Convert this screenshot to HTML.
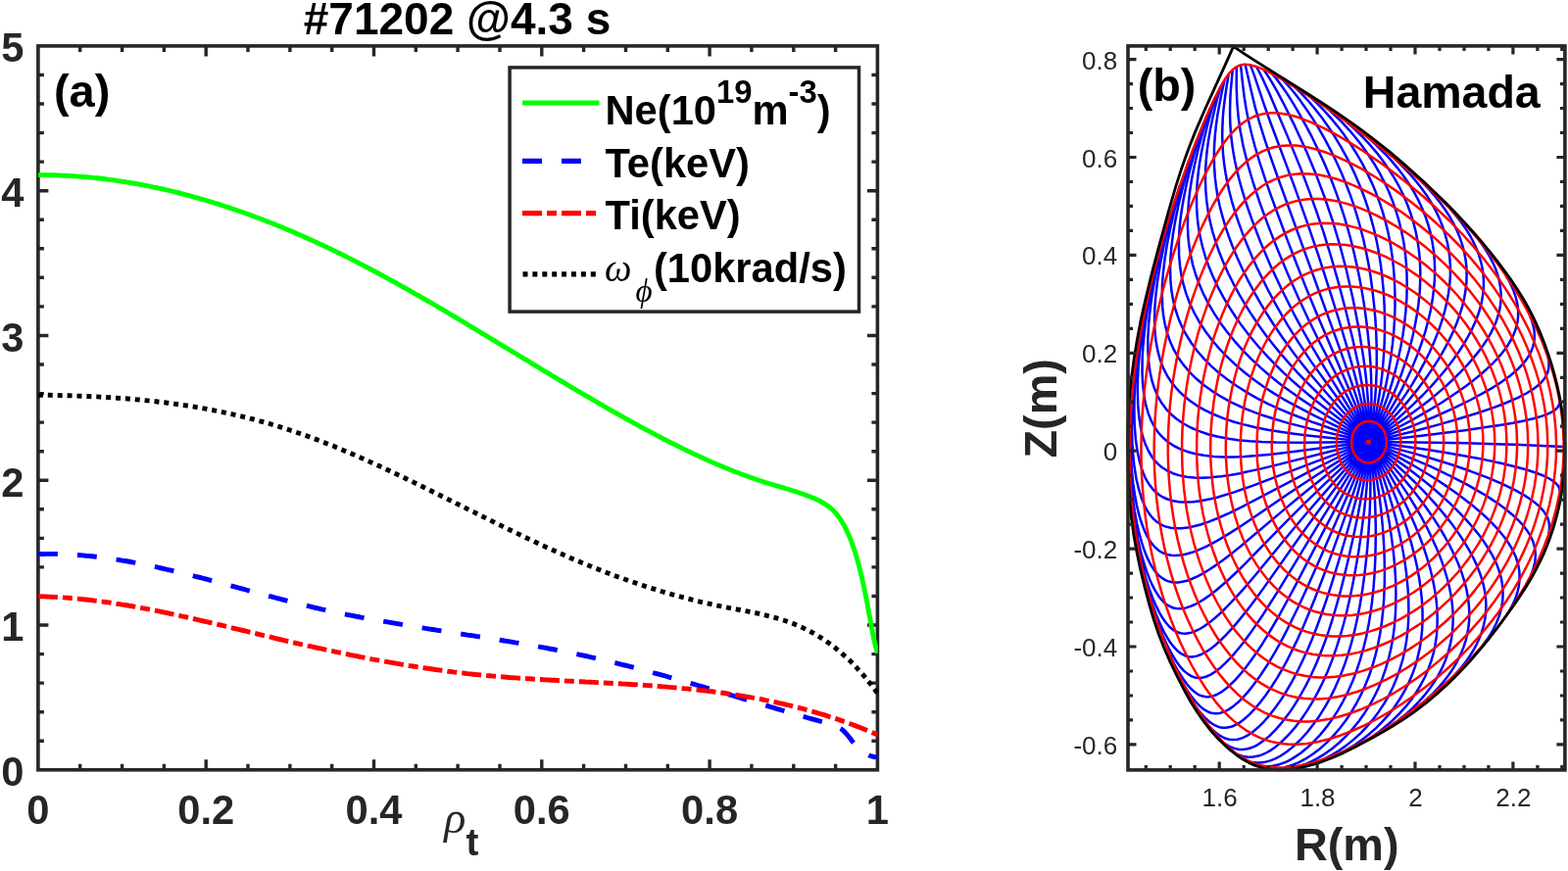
<!DOCTYPE html>
<html lang="en">
<head>
<meta charset="utf-8">
<title>#71202 @4.3 s — profiles and Hamada grid</title>
<style>
html,body{margin:0;padding:0;background:#fff;}
body{width:1600px;height:889px;overflow:hidden;font-family:"Liberation Sans",Arial,Helvetica,sans-serif;}
svg{display:block;position:absolute;left:0;top:0;}
text{white-space:pre;}
</style>
</head>
<body>
<svg width="1600" height="889" viewBox="0 0 1600 889">
<rect x="0" y="0" width="1600" height="889" fill="#ffffff"/>
<g id="axes-a">
<rect x="38.9" y="46.9" width="856.5" height="738.9" fill="none" stroke="#262626" stroke-width="3.6"/>
<path d="M81.7,785.8 v-6.0 M81.7,46.9 v6.0 M124.6,785.8 v-6.0 M124.6,46.9 v6.0 M167.4,785.8 v-6.0 M167.4,46.9 v6.0 M210.2,785.8 v-10.5 M210.2,46.9 v10.5 M253.0,785.8 v-6.0 M253.0,46.9 v6.0 M295.9,785.8 v-6.0 M295.9,46.9 v6.0 M338.7,785.8 v-6.0 M338.7,46.9 v6.0 M381.5,785.8 v-10.5 M381.5,46.9 v10.5 M424.3,785.8 v-6.0 M424.3,46.9 v6.0 M467.1,785.8 v-6.0 M467.1,46.9 v6.0 M510.0,785.8 v-6.0 M510.0,46.9 v6.0 M552.8,785.8 v-10.5 M552.8,46.9 v10.5 M595.6,785.8 v-6.0 M595.6,46.9 v6.0 M638.5,785.8 v-6.0 M638.5,46.9 v6.0 M681.3,785.8 v-6.0 M681.3,46.9 v6.0 M724.1,785.8 v-10.5 M724.1,46.9 v10.5 M766.9,785.8 v-6.0 M766.9,46.9 v6.0 M809.8,785.8 v-6.0 M809.8,46.9 v6.0 M852.6,785.8 v-6.0 M852.6,46.9 v6.0 M38.9,756.2 h6.0 M895.4,756.2 h-6.0 M38.9,726.7 h6.0 M895.4,726.7 h-6.0 M38.9,697.1 h6.0 M895.4,697.1 h-6.0 M38.9,667.6 h6.0 M895.4,667.6 h-6.0 M38.9,638.0 h10.5 M895.4,638.0 h-10.5 M38.9,608.5 h6.0 M895.4,608.5 h-6.0 M38.9,578.9 h6.0 M895.4,578.9 h-6.0 M38.9,549.4 h6.0 M895.4,549.4 h-6.0 M38.9,519.8 h6.0 M895.4,519.8 h-6.0 M38.9,490.2 h10.5 M895.4,490.2 h-10.5 M38.9,460.7 h6.0 M895.4,460.7 h-6.0 M38.9,431.1 h6.0 M895.4,431.1 h-6.0 M38.9,401.6 h6.0 M895.4,401.6 h-6.0 M38.9,372.0 h6.0 M895.4,372.0 h-6.0 M38.9,342.5 h10.5 M895.4,342.5 h-10.5 M38.9,312.9 h6.0 M895.4,312.9 h-6.0 M38.9,283.3 h6.0 M895.4,283.3 h-6.0 M38.9,253.8 h6.0 M895.4,253.8 h-6.0 M38.9,224.2 h6.0 M895.4,224.2 h-6.0 M38.9,194.7 h10.5 M895.4,194.7 h-10.5 M38.9,165.1 h6.0 M895.4,165.1 h-6.0 M38.9,135.6 h6.0 M895.4,135.6 h-6.0 M38.9,106.0 h6.0 M895.4,106.0 h-6.0 M38.9,76.5 h6.0 M895.4,76.5 h-6.0" stroke="#262626" stroke-width="3.4" fill="none"/>
<clipPath id="clipA"><rect x="38.6" y="46.9" width="857.3" height="740.9"/></clipPath>
<g fill="none" stroke-width="4.9" stroke-linejoin="round" clip-path="url(#clipA)">
<path d="M38.9,178.6 L41.0,178.6 L43.2,178.6 L45.3,178.6 L47.5,178.6 L49.6,178.7 L51.8,178.7 L53.9,178.8 L56.1,178.8 L58.2,178.9 L60.4,179.0 L62.5,179.1 L64.7,179.2 L66.8,179.3 L69.0,179.4 L71.1,179.5 L73.2,179.6 L75.4,179.8 L77.5,179.9 L79.7,180.1 L81.8,180.2 L84.0,180.4 L86.1,180.6 L88.3,180.7 L90.4,180.9 L92.6,181.1 L94.7,181.4 L96.9,181.6 L99.0,181.8 L101.2,182.0 L103.3,182.3 L105.4,182.5 L107.6,182.8 L109.7,183.1 L111.9,183.4 L114.0,183.6 L116.2,183.9 L118.3,184.2 L120.5,184.6 L122.6,184.9 L124.8,185.2 L126.9,185.5 L129.1,185.9 L131.2,186.2 L133.4,186.6 L135.5,187.0 L137.6,187.3 L139.8,187.7 L141.9,188.1 L144.1,188.5 L146.2,188.9 L148.4,189.3 L150.5,189.7 L152.7,190.2 L154.8,190.6 L157.0,191.1 L159.1,191.5 L161.3,192.0 L163.4,192.4 L165.6,192.9 L167.7,193.4 L169.8,193.9 L172.0,194.4 L174.1,194.9 L176.3,195.4 L178.4,195.9 L180.6,196.5 L182.7,197.0 L184.9,197.5 L187.0,198.1 L189.2,198.7 L191.3,199.2 L193.5,199.8 L195.6,200.4 L197.7,201.0 L199.9,201.6 L202.0,202.2 L204.2,202.8 L206.3,203.4 L208.5,204.0 L210.6,204.7 L212.8,205.3 L214.9,205.9 L217.1,206.6 L219.2,207.3 L221.4,207.9 L223.5,208.6 L225.7,209.3 L227.8,210.0 L229.9,210.7 L232.1,211.4 L234.2,212.1 L236.4,212.8 L238.5,213.5 L240.7,214.3 L242.8,215.0 L245.0,215.8 L247.1,216.5 L249.3,217.3 L251.4,218.0 L253.6,218.8 L255.7,219.6 L257.9,220.4 L260.0,221.2 L262.1,222.0 L264.3,222.8 L266.4,223.6 L268.6,224.4 L270.7,225.3 L272.9,226.1 L275.0,226.9 L277.2,227.8 L279.3,228.6 L281.5,229.5 L283.6,230.4 L285.8,231.2 L287.9,232.1 L290.1,233.0 L292.2,233.9 L294.3,234.8 L296.5,235.7 L298.6,236.6 L300.8,237.5 L302.9,238.5 L305.1,239.4 L307.2,240.3 L309.4,241.3 L311.5,242.2 L313.7,243.2 L315.8,244.2 L318.0,245.1 L320.1,246.1 L322.3,247.1 L324.4,248.1 L326.5,249.1 L328.7,250.1 L330.8,251.1 L333.0,252.1 L335.1,253.1 L337.3,254.1 L339.4,255.2 L341.6,256.2 L343.7,257.2 L345.9,258.3 L348.0,259.3 L350.2,260.4 L352.3,261.5 L354.5,262.6 L356.6,263.6 L358.7,264.7 L360.9,265.8 L363.0,266.9 L365.2,268.0 L367.3,269.1 L369.5,270.2 L371.6,271.3 L373.8,272.5 L375.9,273.6 L378.1,274.7 L380.2,275.9 L382.4,277.0 L384.5,278.2 L386.7,279.3 L388.8,280.5 L390.9,281.6 L393.1,282.8 L395.2,284.0 L397.4,285.1 L399.5,286.3 L401.7,287.5 L403.8,288.7 L406.0,289.9 L408.1,291.1 L410.3,292.3 L412.4,293.5 L414.6,294.7 L416.7,295.9 L418.9,297.1 L421.0,298.3 L423.1,299.6 L425.3,300.8 L427.4,302.0 L429.6,303.2 L431.7,304.5 L433.9,305.7 L436.0,307.0 L438.2,308.2 L440.3,309.4 L442.5,310.7 L444.6,311.9 L446.8,313.2 L448.9,314.5 L451.1,315.7 L453.2,317.0 L455.3,318.2 L457.5,319.5 L459.6,320.8 L461.8,322.1 L463.9,323.3 L466.1,324.6 L468.2,325.9 L470.4,327.2 L472.5,328.5 L474.7,329.7 L476.8,331.0 L479.0,332.3 L481.1,333.6 L483.2,334.9 L485.4,336.2 L487.5,337.5 L489.7,338.8 L491.8,340.1 L494.0,341.4 L496.1,342.7 L498.3,344.0 L500.4,345.3 L502.6,346.6 L504.7,347.9 L506.9,349.2 L509.0,350.5 L511.2,351.8 L513.3,353.1 L515.4,354.4 L517.6,355.7 L519.7,357.0 L521.9,358.3 L524.0,359.6 L526.2,360.9 L528.3,362.2 L530.5,363.5 L532.6,364.8 L534.8,366.1 L536.9,367.4 L539.1,368.7 L541.2,370.0 L543.4,371.3 L545.5,372.6 L547.6,373.9 L549.8,375.2 L551.9,376.5 L554.1,377.8 L556.2,379.1 L558.4,380.4 L560.5,381.7 L562.7,383.0 L564.8,384.3 L567.0,385.5 L569.1,386.8 L571.3,388.1 L573.4,389.4 L575.6,390.7 L577.7,392.0 L579.8,393.3 L582.0,394.5 L584.1,395.8 L586.3,397.1 L588.4,398.3 L590.6,399.6 L592.7,400.9 L594.9,402.1 L597.0,403.4 L599.2,404.7 L601.3,405.9 L603.5,407.2 L605.6,408.4 L607.8,409.7 L609.9,410.9 L612.0,412.2 L614.2,413.4 L616.3,414.6 L618.5,415.9 L620.6,417.1 L622.8,418.3 L624.9,419.6 L627.1,420.8 L629.2,422.0 L631.4,423.2 L633.5,424.4 L635.7,425.6 L637.8,426.8 L640.0,428.0 L642.1,429.2 L644.2,430.4 L646.4,431.6 L648.5,432.8 L650.7,433.9 L652.8,435.1 L655.0,436.3 L657.1,437.4 L659.3,438.6 L661.4,439.7 L663.6,440.9 L665.7,442.0 L667.9,443.2 L670.0,444.3 L672.2,445.4 L674.3,446.5 L676.4,447.7 L678.6,448.8 L680.7,449.9 L682.9,451.0 L685.0,452.1 L687.2,453.1 L689.3,454.2 L691.5,455.3 L693.6,456.3 L695.8,457.4 L697.9,458.4 L700.1,459.5 L702.2,460.5 L704.4,461.5 L706.5,462.6 L708.6,463.6 L710.8,464.6 L712.9,465.6 L715.1,466.6 L717.2,467.5 L719.4,468.5 L721.5,469.5 L723.7,470.4 L725.8,471.4 L728.0,472.3 L730.1,473.2 L732.3,474.2 L734.4,475.1 L736.6,476.0 L738.7,476.9 L740.8,477.7 L743.0,478.6 L745.1,479.5 L747.3,480.3 L749.4,481.2 L751.6,482.0 L753.7,482.8 L755.9,483.7 L758.0,484.5 L760.2,485.2 L762.3,486.0 L764.5,486.8 L766.6,487.6 L768.7,488.3 L770.9,489.0 L773.0,489.8 L775.2,490.5 L777.3,491.2 L779.5,491.9 L781.6,492.6 L783.8,493.2 L785.9,493.9 L788.1,494.5 L790.2,495.2 L792.4,495.8 L794.5,496.4 L796.7,497.1 L798.8,497.7 L800.9,498.3 L803.1,499.0 L805.2,499.6 L807.4,500.3 L809.5,501.0 L811.7,501.6 L813.8,502.3 L816.0,503.1 L818.1,503.8 L820.3,504.6 L822.4,505.4 L824.6,506.2 L826.7,507.0 L828.9,507.9 L831.0,508.8 L833.1,509.8 L835.3,510.8 L837.4,511.8 L839.6,513.0 L841.7,514.3 L843.9,515.7 L846.0,517.3 L848.2,519.1 L850.3,521.1 L852.5,523.4 L854.6,526.0 L856.8,528.9 L858.9,532.2 L861.1,535.9 L863.2,540.0 L865.3,544.5 L867.5,549.5 L869.6,555.1 L871.8,561.4 L873.9,568.3 L876.1,575.9 L878.2,584.4 L880.4,593.7 L882.5,603.8 L884.7,614.6 L886.8,626.2 L889.0,638.0 L891.1,649.2 L893.3,659.0 L895.4,666.6" stroke="#00ff00"/>
<path d="M38.9,565.6 L41.8,565.5 L44.6,565.5 L47.5,565.4 L50.4,565.4 L53.2,565.4 L56.1,565.4 L59.0,565.5 L61.8,565.6 L64.7,565.7 L67.5,565.8 L70.4,565.9 L73.3,566.1 L76.1,566.3 L79.0,566.5 L81.9,566.7 L84.7,566.9 L87.6,567.2 L90.5,567.4 L93.3,567.7 L96.2,568.0 L99.1,568.4 L101.9,568.7 L104.8,569.1 L107.6,569.5 L110.5,569.9 L113.4,570.3 L116.2,570.7 L119.1,571.1 L122.0,571.6 L124.8,572.1 L127.7,572.5 L130.6,573.0 L133.4,573.5 L136.3,574.1 L139.2,574.6 L142.0,575.2 L144.9,575.7 L147.8,576.3 L150.6,576.9 L153.5,577.5 L156.3,578.1 L159.2,578.7 L162.1,579.3 L164.9,580.0 L167.8,580.6 L170.7,581.3 L173.5,581.9 L176.4,582.6 L179.3,583.3 L182.1,584.0 L185.0,584.7 L187.9,585.4 L190.7,586.1 L193.6,586.8 L196.5,587.5 L199.3,588.3 L202.2,589.0 L205.0,589.7 L207.9,590.5 L210.8,591.2 L213.6,592.0 L216.5,592.7 L219.4,593.5 L222.2,594.3 L225.1,595.0 L228.0,595.8 L230.8,596.6 L233.7,597.3 L236.6,598.1 L239.4,598.9 L242.3,599.7 L245.1,600.5 L248.0,601.2 L250.9,602.0 L253.7,602.8 L256.6,603.6 L259.5,604.3 L262.3,605.1 L265.2,605.9 L268.1,606.7 L270.9,607.4 L273.8,608.2 L276.7,608.9 L279.5,609.7 L282.4,610.5 L285.3,611.2 L288.1,612.0 L291.0,612.7 L293.8,613.4 L296.7,614.2 L299.6,614.9 L302.4,615.6 L305.3,616.3 L308.2,617.0 L311.0,617.7 L313.9,618.4 L316.8,619.1 L319.6,619.8 L322.5,620.5 L325.4,621.1 L328.2,621.8 L331.1,622.4 L333.9,623.0 L336.8,623.7 L339.7,624.3 L342.5,624.9 L345.4,625.5 L348.3,626.1 L351.1,626.7 L354.0,627.3 L356.9,627.8 L359.7,628.4 L362.6,629.0 L365.5,629.5 L368.3,630.1 L371.2,630.6 L374.1,631.1 L376.9,631.7 L379.8,632.2 L382.6,632.7 L385.5,633.2 L388.4,633.7 L391.2,634.2 L394.1,634.7 L397.0,635.2 L399.8,635.7 L402.7,636.2 L405.6,636.7 L408.4,637.2 L411.3,637.7 L414.2,638.1 L417.0,638.6 L419.9,639.1 L422.7,639.5 L425.6,640.0 L428.5,640.5 L431.3,640.9 L434.2,641.4 L437.1,641.8 L439.9,642.3 L442.8,642.7 L445.7,643.2 L448.5,643.6 L451.4,644.1 L454.3,644.5 L457.1,644.9 L460.0,645.4 L462.9,645.8 L465.7,646.3 L468.6,646.7 L471.4,647.2 L474.3,647.6 L477.2,648.1 L480.0,648.5 L482.9,648.9 L485.8,649.4 L488.6,649.8 L491.5,650.3 L494.4,650.7 L497.2,651.2 L500.1,651.6 L503.0,652.1 L505.8,652.6 L508.7,653.0 L511.6,653.5 L514.4,654.0 L517.3,654.4 L520.1,654.9 L523.0,655.4 L525.9,655.9 L528.7,656.3 L531.6,656.8 L534.5,657.3 L537.3,657.8 L540.2,658.3 L543.1,658.8 L545.9,659.3 L548.8,659.8 L551.7,660.4 L554.5,660.9 L557.4,661.4 L560.2,662.0 L563.1,662.5 L566.0,663.0 L568.8,663.6 L571.7,664.2 L574.6,664.7 L577.4,665.3 L580.3,665.9 L583.2,666.5 L586.0,667.1 L588.9,667.7 L591.8,668.3 L594.6,668.9 L597.5,669.5 L600.4,670.1 L603.2,670.8 L606.1,671.4 L608.9,672.1 L611.8,672.7 L614.7,673.4 L617.5,674.1 L620.4,674.8 L623.3,675.5 L626.1,676.2 L629.0,676.9 L631.9,677.6 L634.7,678.3 L637.6,679.0 L640.5,679.7 L643.3,680.5 L646.2,681.2 L649.0,682.0 L651.9,682.7 L654.8,683.5 L657.6,684.2 L660.5,685.0 L663.4,685.8 L666.2,686.6 L669.1,687.3 L672.0,688.1 L674.8,688.9 L677.7,689.7 L680.6,690.5 L683.4,691.3 L686.3,692.1 L689.2,692.9 L692.0,693.7 L694.9,694.6 L697.7,695.4 L700.6,696.2 L703.5,697.0 L706.3,697.8 L709.2,698.7 L712.1,699.5 L714.9,700.3 L717.8,701.2 L720.7,702.0 L723.5,702.9 L726.4,703.7 L729.3,704.6 L732.1,705.4 L735.0,706.3 L737.8,707.1 L740.7,708.0 L743.6,708.8 L746.4,709.7 L749.3,710.5 L752.2,711.4 L755.0,712.2 L757.9,713.1 L760.8,713.9 L763.6,714.8 L766.5,715.6 L769.4,716.5 L772.2,717.3 L775.1,718.2 L778.0,719.0 L780.8,719.9 L783.7,720.7 L786.5,721.6 L789.4,722.4 L792.3,723.3 L795.1,724.1 L798.0,725.0 L800.9,725.8 L803.7,726.7 L806.6,727.5 L809.5,728.3 L812.3,729.2 L815.2,730.0 L818.1,730.8 L820.9,731.6 L823.8,732.5 L826.7,733.3 L829.5,734.1 L832.4,734.9 L835.2,735.7 L838.1,736.5 L841.0,737.3 L843.8,738.1 L846.7,738.9 L849.6,739.8 L852.4,740.8 L855.3,742.2 L858.2,743.9 L861.0,746.2 L863.9,749.2 L866.8,752.7 L869.6,756.5 L872.5,759.9 L875.3,762.9 L878.2,765.5 L881.1,767.7 L883.9,769.5 L886.8,771.0 L889.7,772.0 L892.5,772.6 L895.4,772.9" stroke="#0000ff" stroke-dasharray="20 20"/>
<path d="M38.9,608.8 L41.8,608.9 L44.6,608.9 L47.5,609.0 L50.4,609.1 L53.2,609.3 L56.1,609.4 L59.0,609.6 L61.8,609.7 L64.7,609.9 L67.5,610.1 L70.4,610.3 L73.3,610.6 L76.1,610.8 L79.0,611.1 L81.9,611.4 L84.7,611.7 L87.6,612.0 L90.5,612.3 L93.3,612.6 L96.2,613.0 L99.1,613.3 L101.9,613.7 L104.8,614.1 L107.6,614.5 L110.5,614.9 L113.4,615.3 L116.2,615.7 L119.1,616.2 L122.0,616.6 L124.8,617.1 L127.7,617.5 L130.6,618.0 L133.4,618.5 L136.3,619.0 L139.2,619.5 L142.0,620.0 L144.9,620.6 L147.8,621.1 L150.6,621.6 L153.5,622.2 L156.3,622.8 L159.2,623.3 L162.1,623.9 L164.9,624.5 L167.8,625.1 L170.7,625.7 L173.5,626.3 L176.4,626.9 L179.3,627.5 L182.1,628.1 L185.0,628.8 L187.9,629.4 L190.7,630.0 L193.6,630.7 L196.5,631.3 L199.3,632.0 L202.2,632.6 L205.0,633.3 L207.9,634.0 L210.8,634.6 L213.6,635.3 L216.5,636.0 L219.4,636.7 L222.2,637.3 L225.1,638.0 L228.0,638.7 L230.8,639.4 L233.7,640.1 L236.6,640.8 L239.4,641.5 L242.3,642.1 L245.1,642.8 L248.0,643.5 L250.9,644.2 L253.7,644.9 L256.6,645.6 L259.5,646.3 L262.3,647.0 L265.2,647.7 L268.1,648.4 L270.9,649.0 L273.8,649.7 L276.7,650.4 L279.5,651.1 L282.4,651.8 L285.3,652.5 L288.1,653.1 L291.0,653.8 L293.8,654.5 L296.7,655.1 L299.6,655.8 L302.4,656.5 L305.3,657.1 L308.2,657.8 L311.0,658.4 L313.9,659.1 L316.8,659.7 L319.6,660.3 L322.5,661.0 L325.4,661.6 L328.2,662.2 L331.1,662.8 L333.9,663.5 L336.8,664.1 L339.7,664.7 L342.5,665.3 L345.4,665.9 L348.3,666.5 L351.1,667.1 L354.0,667.7 L356.9,668.3 L359.7,668.8 L362.6,669.4 L365.5,670.0 L368.3,670.6 L371.2,671.1 L374.1,671.7 L376.9,672.2 L379.8,672.8 L382.6,673.3 L385.5,673.8 L388.4,674.4 L391.2,674.9 L394.1,675.4 L397.0,675.9 L399.8,676.4 L402.7,676.9 L405.6,677.4 L408.4,677.9 L411.3,678.4 L414.2,678.8 L417.0,679.3 L419.9,679.8 L422.7,680.2 L425.6,680.7 L428.5,681.1 L431.3,681.6 L434.2,682.0 L437.1,682.4 L439.9,682.8 L442.8,683.2 L445.7,683.6 L448.5,684.0 L451.4,684.4 L454.3,684.8 L457.1,685.2 L460.0,685.5 L462.9,685.9 L465.7,686.2 L468.6,686.6 L471.4,686.9 L474.3,687.2 L477.2,687.6 L480.0,687.9 L482.9,688.2 L485.8,688.5 L488.6,688.7 L491.5,689.0 L494.4,689.3 L497.2,689.6 L500.1,689.8 L503.0,690.1 L505.8,690.3 L508.7,690.6 L511.6,690.8 L514.4,691.0 L517.3,691.2 L520.1,691.5 L523.0,691.7 L525.9,691.9 L528.7,692.1 L531.6,692.3 L534.5,692.5 L537.3,692.6 L540.2,692.8 L543.1,693.0 L545.9,693.2 L548.8,693.4 L551.7,693.5 L554.5,693.7 L557.4,693.9 L560.2,694.0 L563.1,694.2 L566.0,694.3 L568.8,694.5 L571.7,694.6 L574.6,694.8 L577.4,695.0 L580.3,695.1 L583.2,695.2 L586.0,695.4 L588.9,695.5 L591.8,695.7 L594.6,695.8 L597.5,696.0 L600.4,696.1 L603.2,696.3 L606.1,696.4 L608.9,696.6 L611.8,696.7 L614.7,696.9 L617.5,697.0 L620.4,697.2 L623.3,697.3 L626.1,697.5 L629.0,697.6 L631.9,697.8 L634.7,698.0 L637.6,698.1 L640.5,698.3 L643.3,698.5 L646.2,698.7 L649.0,698.8 L651.9,699.0 L654.8,699.2 L657.6,699.4 L660.5,699.6 L663.4,699.8 L666.2,700.0 L669.1,700.2 L672.0,700.4 L674.8,700.7 L677.7,700.9 L680.6,701.1 L683.4,701.4 L686.3,701.6 L689.2,701.9 L692.0,702.1 L694.9,702.4 L697.7,702.7 L700.6,702.9 L703.5,703.2 L706.3,703.5 L709.2,703.8 L712.1,704.1 L714.9,704.5 L717.8,704.8 L720.7,705.1 L723.5,705.5 L726.4,705.8 L729.3,706.2 L732.1,706.6 L735.0,706.9 L737.8,707.3 L740.7,707.7 L743.6,708.2 L746.4,708.6 L749.3,709.0 L752.2,709.5 L755.0,709.9 L757.9,710.4 L760.8,710.9 L763.6,711.4 L766.5,711.9 L769.4,712.4 L772.2,712.9 L775.1,713.4 L778.0,714.0 L780.8,714.6 L783.7,715.1 L786.5,715.7 L789.4,716.3 L792.3,716.9 L795.1,717.6 L798.0,718.2 L800.9,718.9 L803.7,719.6 L806.6,720.2 L809.5,721.0 L812.3,721.7 L815.2,722.4 L818.1,723.2 L820.9,723.9 L823.8,724.7 L826.7,725.5 L829.5,726.3 L832.4,727.1 L835.2,728.0 L838.1,728.9 L841.0,729.7 L843.8,730.6 L846.7,731.6 L849.6,732.5 L852.4,733.4 L855.3,734.4 L858.2,735.4 L861.0,736.4 L863.9,737.4 L866.8,738.5 L869.6,739.5 L872.5,740.6 L875.3,741.7 L878.2,742.8 L881.1,744.0 L883.9,745.1 L886.8,746.3 L889.7,747.5 L892.5,748.8 L895.4,750.0" stroke="#ff0000" stroke-dasharray="20 5 10 5"/>
<path d="M38.9,403.2 L41.8,403.2 L44.6,403.3 L47.5,403.3 L50.4,403.3 L53.2,403.4 L56.1,403.4 L59.0,403.5 L61.8,403.6 L64.7,403.6 L67.5,403.7 L70.4,403.8 L73.3,403.9 L76.1,404.0 L79.0,404.1 L81.9,404.2 L84.7,404.3 L87.6,404.4 L90.5,404.5 L93.3,404.7 L96.2,404.8 L99.1,404.9 L101.9,405.1 L104.8,405.3 L107.6,405.4 L110.5,405.6 L113.4,405.8 L116.2,406.0 L119.1,406.2 L122.0,406.4 L124.8,406.6 L127.7,406.8 L130.6,407.0 L133.4,407.3 L136.3,407.5 L139.2,407.8 L142.0,408.0 L144.9,408.3 L147.8,408.6 L150.6,408.9 L153.5,409.2 L156.3,409.5 L159.2,409.8 L162.1,410.2 L164.9,410.5 L167.8,410.8 L170.7,411.2 L173.5,411.6 L176.4,412.0 L179.3,412.4 L182.1,412.8 L185.0,413.2 L187.9,413.6 L190.7,414.0 L193.6,414.5 L196.5,414.9 L199.3,415.4 L202.2,415.9 L205.0,416.4 L207.9,416.9 L210.8,417.4 L213.6,418.0 L216.5,418.5 L219.4,419.1 L222.2,419.6 L225.1,420.2 L228.0,420.8 L230.8,421.4 L233.7,422.0 L236.6,422.7 L239.4,423.3 L242.3,424.0 L245.1,424.6 L248.0,425.3 L250.9,426.0 L253.7,426.7 L256.6,427.5 L259.5,428.2 L262.3,429.0 L265.2,429.8 L268.1,430.5 L270.9,431.3 L273.8,432.2 L276.7,433.0 L279.5,433.8 L282.4,434.7 L285.3,435.6 L288.1,436.5 L291.0,437.4 L293.8,438.3 L296.7,439.3 L299.6,440.2 L302.4,441.2 L305.3,442.2 L308.2,443.2 L311.0,444.2 L313.9,445.2 L316.8,446.3 L319.6,447.4 L322.5,448.4 L325.4,449.5 L328.2,450.6 L331.1,451.7 L333.9,452.9 L336.8,454.0 L339.7,455.1 L342.5,456.3 L345.4,457.5 L348.3,458.7 L351.1,459.9 L354.0,461.1 L356.9,462.3 L359.7,463.5 L362.6,464.8 L365.5,466.0 L368.3,467.3 L371.2,468.5 L374.1,469.8 L376.9,471.1 L379.8,472.4 L382.6,473.7 L385.5,475.0 L388.4,476.3 L391.2,477.6 L394.1,479.0 L397.0,480.3 L399.8,481.7 L402.7,483.0 L405.6,484.4 L408.4,485.7 L411.3,487.1 L414.2,488.5 L417.0,489.9 L419.9,491.2 L422.7,492.6 L425.6,494.0 L428.5,495.4 L431.3,496.8 L434.2,498.2 L437.1,499.6 L439.9,501.0 L442.8,502.5 L445.7,503.9 L448.5,505.3 L451.4,506.7 L454.3,508.1 L457.1,509.6 L460.0,511.0 L462.9,512.4 L465.7,513.9 L468.6,515.3 L471.4,516.7 L474.3,518.1 L477.2,519.6 L480.0,521.0 L482.9,522.4 L485.8,523.8 L488.6,525.3 L491.5,526.7 L494.4,528.1 L497.2,529.5 L500.1,531.0 L503.0,532.4 L505.8,533.8 L508.7,535.2 L511.6,536.6 L514.4,538.0 L517.3,539.4 L520.1,540.8 L523.0,542.2 L525.9,543.6 L528.7,544.9 L531.6,546.3 L534.5,547.7 L537.3,549.0 L540.2,550.4 L543.1,551.7 L545.9,553.1 L548.8,554.4 L551.7,555.8 L554.5,557.1 L557.4,558.4 L560.2,559.7 L563.1,561.0 L566.0,562.3 L568.8,563.6 L571.7,564.9 L574.6,566.1 L577.4,567.4 L580.3,568.6 L583.2,569.9 L586.0,571.1 L588.9,572.3 L591.8,573.5 L594.6,574.7 L597.5,575.9 L600.4,577.1 L603.2,578.2 L606.1,579.4 L608.9,580.5 L611.8,581.6 L614.7,582.8 L617.5,583.9 L620.4,585.0 L623.3,586.0 L626.1,587.1 L629.0,588.2 L631.9,589.2 L634.7,590.2 L637.6,591.3 L640.5,592.3 L643.3,593.3 L646.2,594.3 L649.0,595.2 L651.9,596.2 L654.8,597.2 L657.6,598.1 L660.5,599.0 L663.4,599.9 L666.2,600.8 L669.1,601.7 L672.0,602.6 L674.8,603.5 L677.7,604.3 L680.6,605.2 L683.4,606.0 L686.3,606.8 L689.2,607.6 L692.0,608.4 L694.9,609.2 L697.7,609.9 L700.6,610.7 L703.5,611.4 L706.3,612.2 L709.2,612.9 L712.1,613.6 L714.9,614.3 L717.8,614.9 L720.7,615.6 L723.5,616.2 L726.4,616.9 L729.3,617.5 L732.1,618.1 L735.0,618.7 L737.8,619.2 L740.7,619.8 L743.6,620.4 L746.4,620.9 L749.3,621.4 L752.2,622.0 L755.0,622.5 L757.9,623.1 L760.8,623.6 L763.6,624.2 L766.5,624.7 L769.4,625.3 L772.2,625.9 L775.1,626.5 L778.0,627.2 L780.8,627.9 L783.7,628.6 L786.5,629.3 L789.4,630.1 L792.3,630.9 L795.1,631.7 L798.0,632.6 L800.9,633.5 L803.7,634.5 L806.6,635.5 L809.5,636.6 L812.3,637.8 L815.2,639.0 L818.1,640.3 L820.9,641.6 L823.8,643.0 L826.7,644.5 L829.5,646.0 L832.4,647.6 L835.2,649.4 L838.1,651.1 L841.0,653.0 L843.8,655.0 L846.7,657.0 L849.6,659.1 L852.4,661.3 L855.3,663.7 L858.2,666.1 L861.0,668.6 L863.9,671.2 L866.8,673.9 L869.6,676.8 L872.5,679.7 L875.3,682.8 L878.2,685.9 L881.1,689.2 L883.9,692.6 L886.8,696.2 L889.7,699.8 L892.5,703.6 L895.4,707.5" stroke="#000000" stroke-dasharray="5 4.9"/>
</g>
<g font-family="'Liberation Sans', Arial, Helvetica, sans-serif" font-weight="bold" font-size="41.7" fill="#262626">
<text x="24.5" y="802.2" text-anchor="end">0</text>
<text x="24.5" y="654.4" text-anchor="end">1</text>
<text x="24.5" y="506.6" text-anchor="end">2</text>
<text x="24.5" y="358.9" text-anchor="end">3</text>
<text x="24.5" y="211.1" text-anchor="end">4</text>
<text x="24.5" y="63.3" text-anchor="end">5</text>
<text x="38.9" y="841.2" text-anchor="middle">0</text>
<text x="210.2" y="841.2" text-anchor="middle">0.2</text>
<text x="381.5" y="841.2" text-anchor="middle">0.4</text>
<text x="552.8" y="841.2" text-anchor="middle">0.6</text>
<text x="724.1" y="841.2" text-anchor="middle">0.8</text>
<text x="895.4" y="841.2" text-anchor="middle">1</text>
</g>
<g font-family="'Liberation Sans', Arial, Helvetica, sans-serif" font-weight="bold" fill="#000">
<text x="466.5" y="35.3" font-size="46" text-anchor="middle">#71202 @4.3 s</text>
<text x="54.9" y="108.5" font-size="47">(a)</text>
</g>
<text x="453.2" y="850.4" font-family="'Liberation Serif', 'DejaVu Serif', serif" font-style="italic" font-size="46" fill="#262626">ρ</text>
<text x="475.6" y="873.2" font-family="'Liberation Sans', Arial, sans-serif" font-weight="bold" font-size="38.8" fill="#262626">t</text>
<g id="legend">
<rect x="520.1" y="68.9" width="356.4" height="249.2" fill="#fff" stroke="#262626" stroke-width="3.5"/>
<g fill="none" stroke-width="5.2">
<path d="M533,105 H611.5" stroke="#00ff00"/>
<path d="M533,164.4 H611.5" stroke="#0000ff" stroke-dasharray="20 20"/>
<path d="M533,217.7 H611.5" stroke="#ff0000" stroke-dasharray="20 5 10 5"/>
<path d="M533.5,279.9 H609" stroke="#000" stroke-dasharray="5 4.9"/>
</g>
<g font-family="'Liberation Sans', Arial, Helvetica, sans-serif" font-weight="bold" font-size="41.7" fill="#000">
<text x="617.5" y="127.3">Ne(10<tspan font-size="32.8" dy="-22.1">19</tspan><tspan dy="22.1">m</tspan><tspan font-size="32.8" dy="-22.1">-3</tspan><tspan dy="22.1">)</tspan></text>
<text x="617.5" y="180.6">Te(keV)</text>
<text x="617.5" y="233.9">Ti(keV)</text>
<text x="666.9" y="287.5">(10krad/s)</text>
</g>
<g font-family="'Liberation Serif', 'DejaVu Serif', serif" font-style="italic" fill="#000">
<text x="617" y="287.4" font-size="39">ω</text>
<text x="648.6" y="307.9" font-size="33">ϕ</text>
</g>
</g>
</g>
<g id="axes-b">
<g fill="none" stroke-linejoin="round" stroke-linecap="butt">
<path stroke="#0000ff" stroke-width="2.5" d="M1396.4,451.1 1445.3,451.4 1495.8,452.3 1545.9,453.8 1595.7,455.9 M1396.4,451.1 1452.5,444.6 1496.7,438.9 1530.6,433.9 1543.7,431.7 1555.3,429.4 1564.6,427.2 1572.1,425.1 1578,423.1 1582.9,420.8 1586.6,418.5 1588.1,417.2 1589.3,415.8 1590.3,414.3 1590.9,413 1591.6,409.9 M1396.4,451.1 1412.7,447.4 1444.4,439.7 1467.2,433.6 1487.6,427.8 1507.1,421.8 1523.1,416.4 1537.1,411 1548.5,406.1 1557.5,401.5 1565.3,396.6 1568.4,394.3 1571,392 1573.2,389.8 1575.4,387.1 1577.3,384.3 1578.5,381.9 1579.5,379.2 1580.2,376.4 1580.5,373.3 1580.5,370.8 1580.2,368.1 1579.6,364.6 M1396.4,451.1 1414.2,444.9 1442.3,434.3 1463.6,425.5 1483.4,416.6 1500.9,408 1517.1,399.2 1523.7,395.3 1530.6,390.9 1536,387.1 1541.1,383.4 1545.7,379.5 1549.2,376.3 1553.1,372.3 1556,369 1558.5,365.5 1560.8,361.9 1562.6,358.1 1564.1,354.1 1565.2,349.9 1565.7,346.3 1565.8,342.5 1565.6,338.3 1564.8,333.8 1563.9,330.1 1562.7,326.3 1560.8,321.3 M1396.4,451.1 1407.9,445.8 1413.8,442.9 1427.1,436 1440.6,428.8 1460.9,417.1 1469.8,411.7 1479.6,405.3 1487.4,400 1495.9,393.9 1503.8,387.9 1510.9,382.2 1516.8,376.9 1523,371.1 1527.8,366.1 1532.2,361 1536.1,356 1539,351.7 1542.1,346.5 1544.3,342 1546.1,337.4 1547.6,332.7 1548.6,327.7 1549.1,322.6 1549.1,317.1 1548.7,312.5 1547.8,307.6 1546.4,302.3 1544.4,296.6 1542.4,292 1540.1,287.2 1536.6,281.1 M1396.4,451.1 1407.4,444.6 1414.9,439.7 1427.4,431.3 1438.4,423.6 1448.6,416.1 1457.5,409.2 1465.8,402.4 1474.8,394.6 1482,388 1489.7,380.4 1496.8,373 1503.1,365.9 1508.3,359.4 1513.6,352.2 1517.7,346.1 1521.3,339.9 1524.4,333.6 1526.6,328.4 1528.7,322 1530.1,316.5 1531.1,311 1531.6,305.2 1531.6,299.3 1531,293.1 1529.9,286.6 1528.4,281.1 1526.5,275.3 1523.9,269.2 1520.5,262.6 1517.4,257.3 1513.9,251.8 1509,244.9 M1396.4,451.1 1406.8,443.5 1412.1,439.1 1424,429.2 1435,419.4 1443.8,411.1 1452.1,403 1461,393.6 1468.4,385.2 1475.5,376.7 1482.4,367.8 1488.6,359 1493.4,351.6 1498.3,343 1502.1,335.8 1505.4,328.5 1508.2,321.3 1510.5,314 1512,307.9 1513.2,300.4 1513.8,294.2 1514,287.7 1513.6,281.2 1512.7,274.4 1511.2,267.4 1509,260.1 1506.7,254 1503.8,247.7 1500.3,241 1495.9,233.9 1490.6,226.3 1486,220.4 1479.8,213.1 M1396.4,451.1 1406.1,442.4 1411.1,437.4 1422,426.1 1432.1,414.9 1440.1,405.4 1447.5,396.1 1454.3,387 1461.6,376.4 1467.3,367.6 1473.3,357.4 1478.6,347.4 1482.6,339 1486.7,329.2 1489.6,321 1492.1,312.8 1494.1,304.5 1495.5,296.3 1496.4,288.1 1496.6,279.7 1496.4,272.7 1495.6,265.5 1494.3,258.2 1492.4,250.8 1489.9,243.1 1486.6,235.1 1483.4,228.5 1479.6,221.7 1475,214.5 1469.6,207 1464.9,201 1457.8,192.9 1450.6,185.4 M1396.4,451.1 1405.4,441.4 1409.9,435.9 1419.6,423.5 1427.6,412.5 1434.8,401.9 1441.4,391.6 1447.4,381.3 1453.7,369.6 1458.6,359.7 1463.6,348.4 1467.7,338.1 1471.2,327.9 1474.3,317.1 1476.5,307.9 1478.1,298.9 1479.3,289.8 1479.9,280.8 1479.9,271.7 1479.3,262.6 1478.3,254.9 1476.8,247.2 1474.7,239.3 1472.1,231.3 1468.8,223.1 1464.8,214.6 1460.9,207.7 1455.3,198.7 1449.9,191.3 1443.7,183.5 1438.4,177.4 1430.6,169.2 1422.7,161.6 M1396.4,451.1 1404.5,440.5 1408.4,434.6 1417.1,420.9 1424.1,408.9 1430.4,397.4 1436,386 1441.1,374.9 1446.3,362.1 1450.2,351.4 1454.2,339.1 1457.2,327.9 1459.8,316.8 1461.8,305 1463.1,295.1 1463.9,285.2 1464.1,275.4 1463.8,265.6 1462.9,255.9 1461.4,246.1 1459.7,237.9 1457.4,229.6 1454.6,221.2 1451.2,212.7 1447.2,204.1 1442.4,195.2 1438,188 1431.6,178.7 1425.7,171.1 1419,163.1 1413.3,157 1405.1,148.8 1397,141.4 M1396.4,451.1 1403.6,439.7 1407.1,433.2 1414.5,418.6 1420.4,405.7 1425.6,393.4 1430.2,381.2 1434.3,369.2 1437.8,357.5 1440.9,345.9 1443.4,334.6 1445.8,321.5 1447.4,310.6 1448.7,297.9 1449.2,287.3 1449.3,276.7 1448.9,266 1447.9,255.8 1446.5,245.9 1444.7,236.8 1442.1,226.4 1438.8,216 1435.5,207.2 1431.6,198.3 1427.1,189.3 1421.9,180.2 1416.7,172.1 1410.5,163.3 1404.5,155.6 1397.8,147.7 1390.2,139.5 1381.9,131.4 1373.8,124.2 M1396.4,451.1 1402.6,439 1404.6,434.4 1410.1,420.8 1415.8,405.2 1420,392.1 1423.6,379.2 1426.7,366.5 1429.3,354 1431.5,341.7 1433.2,329.7 1434.4,317.9 1435.4,304.3 1435.7,290.9 1435.5,279.6 1434.9,268.5 1433.8,257.4 1432.2,246.4 1430,235.5 1427.3,224.6 1424.6,215.6 1420.8,204.7 1417.1,195.5 1412.8,186.3 1408,177.1 1402.6,167.7 1396.5,158.2 1389.6,148.6 1383.5,140.7 1376.8,132.8 1369.3,124.7 1361.2,116.8 1353.5,109.9 M1396.4,451.1 1401.6,438.4 1403.2,433.6 1407.5,419.3 1411.3,405.3 1414.5,391.6 1416.9,379.4 1419.2,364.7 1420.9,351.7 1422.2,338.8 1423.1,324.6 1423.5,311.7 1423.4,299.6 1422.9,286 1422,273.7 1420.7,262.1 1419,250.5 1416.8,239 1414.1,227.6 1410.9,216.3 1407.8,206.9 1403.6,195.6 1399.6,186.1 1395.1,176.6 1390.2,167.1 1384.7,157.5 1378.6,147.9 1371.9,138.1 1366,130.3 1357.9,120.4 1350.7,112.4 1343.1,104.7 1335.9,98.1 M1396.4,451.1 1400.5,437.9 1401.7,433 1404.9,418.2 1407.4,403.7 1409.2,391.8 1410.8,377.8 1411.9,364 1412.7,350.5 1413,337.1 1413,324 1412.6,311.2 1411.7,296.4 1410.3,281.8 1408.8,269.6 1406.9,257.4 1404.6,245.4 1401.9,233.5 1398.7,221.7 1395.1,210 1391.8,200.3 1388,190.5 1383.1,178.9 1378.5,169.1 1373.5,159.4 1368.1,149.6 1362.2,139.8 1355.8,129.9 1348.8,120.1 1341.1,110.2 1334.4,102.3 1327.5,94.9 1321,88.6 M1396.4,451.1 1399.4,437.6 1399.8,435.1 1401.8,419.9 1403.3,405 1404.1,392.8 1404.7,378.4 1404.8,366.6 1404.7,352.6 1404.2,338.9 1403.4,325.4 1402.2,312.1 1400.5,296.9 1398.5,281.8 1396.4,269.2 1393.9,256.6 1391.2,244.3 1388.1,232 1384.6,219.8 1380.8,207.7 1377.3,197.7 1372.7,185.8 1368.5,175.7 1363,163.8 1358.1,153.8 1351.8,141.9 1346.1,131.9 1340,121.9 1333.4,112 1326.4,102.1 1320.4,94.3 1314.1,87 1308.4,81 M1396.4,451.1 1398.3,437.4 1399,424.6 1399.4,409.4 1399.4,396.9 1399,382.2 1398.4,370.2 1397.3,355.9 1395.9,341.9 1394.3,328.1 1392.5,314.5 1390,298.9 1387.2,283.5 1384.5,270.5 1381.6,257.7 1378.5,245 1375,232.4 1371.3,219.9 1367.2,207.5 1363.6,197.2 1359.8,187 1354.8,174.8 1350.4,164.6 1344.8,152.4 1338.9,140.2 1332.5,128.1 1325.7,115.9 1319.8,105.9 1313.5,95.9 1308.2,88.2 1302.9,81 1298,75.2 M1396.4,451.1 1397.2,437.4 1396.8,424.4 1396.2,412.1 1394.3,389.3 1392.9,377.1 1390.9,362.6 1386.3,334.4 1380.5,304.7 1373.9,275.8 1367,249.5 1359.4,224.1 1351.5,201 1342.9,178.1 1333.4,155.3 1327.8,142.9 1321.1,128.4 1308.8,103.8 1303.4,93.7 1297.8,83.9 1293.3,76.7 1289.2,70.9 M1396.4,451.1 1396,437.4 1394,419.5 1390.6,397 1386.1,372.6 1380.4,346.5 1373.7,318.7 1366,289.4 1357.8,260.6 1350.4,236.7 1343.2,215.3 1335.6,194.1 1326.8,170.9 1313.9,139.4 1295.2,95.3 1287.9,79.3 1285.2,73.9 1282,68 M1396.4,451.1 1394.9,437.6 1393.5,430.3 1389.8,412.5 1385.4,394.1 1380.7,376.1 1374.7,354.9 1367.1,329.5 1358.7,302.3 1345.2,260.2 1332.6,223.3 1321.1,191.2 1296.4,125 1289.5,105.6 1279.6,76.1 1275.9,66.4 M1396.4,451.1 1393.8,438 1391.1,428.1 1385.2,408.7 1378.1,387.3 1365.9,352.6 1303.3,179.5 1296.5,160.2 1290.7,142.8 1285.2,125.2 1280.8,109.6 1277.5,96 1270.6,65.8 M1396.4,451.1 1392.7,438.4 1388.3,426.5 1382.8,412.5 1374.2,391.8 1344.7,322.8 1333.9,296.7 1323.6,270.7 1313.6,244.9 1304.8,221.3 1297,199.9 1291,182.8 1285.3,165.4 1280.7,150 1277.1,136.5 1273.9,122.8 1271.6,111 1269.7,99 1268.2,87 1266,66.4 M1396.4,451.1 1391.7,439 1385.3,425.4 1376.4,407.6 1345.5,347.2 1335.1,326 1325.2,304.8 1314,279.4 1303.4,254.1 1294.3,230.9 1285.7,207.5 1278.6,186 1273.4,168.4 1268.9,150.4 1265.7,134 1263.6,119.3 1262.3,104 1261.7,88.4 1261.8,68.1 M1396.4,451.1 1390.7,439.7 1384.5,429 1352.8,377.3 1339.4,354.9 1329.1,336.6 1320.3,320.3 1308,295.8 1296.5,271.2 1286,246.5 1277.2,223.5 1273.5,213 1270,202.3 1266.7,191.4 1264.3,182.6 1262.1,173.6 1260.1,164.4 1258.4,155 1257,145.3 1256.1,136.8 1255.4,127.3 1255.1,119.3 1255.1,111 1255.3,102.4 1255.7,93.8 1257.8,71.1 M1396.4,451.1 1389.8,440.5 1387,436.5 1351.5,388.1 1338,369.1 1325.2,349.9 1314.4,332.6 1307.5,320.9 1300.9,309.2 1294.7,297.5 1288.6,285.4 1282.9,273.7 1277.5,261.7 1272.4,249.6 1267.6,237.4 1263.8,227 1260.3,216.5 1257.1,205.8 1254.2,194.7 1252.2,185.7 1250.5,176.3 1249.1,166.7 1248,156.6 1247.5,147.7 1247.2,137.7 1247.4,129.1 1247.8,120.1 1248.6,110.8 1250.2,98 1251.6,88.6 1253.8,75.4 M1396.4,451.1 1389,441.5 1351.5,398.7 1336.6,381.2 1328,370.6 1321.1,361.7 1308.1,343.8 1299.5,331 1292.5,320 1285.8,308.9 1279.5,297.6 1273.5,286.3 1267.8,274.8 1262.5,263.1 1257.6,251.2 1253.8,241.2 1250.3,230.8 1247.2,220.2 1244.4,209.3 1242.5,200.2 1241,190.7 1239.8,180.8 1239.1,170.4 1238.8,161.1 1239,150.6 1239.8,138.1 1240.9,128.2 1242.3,117.8 1244.2,107.1 1247,93 1249.7,81.2 M1396.4,451.1 1388.2,442.5 1350.9,407.3 1333.2,389.9 1324,380.3 1316.6,372.2 1308,362.4 1301.2,354.2 1292,342.4 1284.6,332.2 1277.6,321.8 1270.8,311.1 1264.6,300.6 1258.7,289.8 1253.2,278.7 1248.1,267.3 1244.2,257.5 1240.7,247.5 1237.5,237.1 1234.8,226.3 1232.6,214.9 1231.3,205.2 1230.4,195 1230,184 1230.2,172.3 1230.8,162.8 1231.8,152.7 1233.3,141.9 1235.3,130.4 1237.8,118.4 1241.6,102.4 1245.3,88.8 M1396.4,451.1 1387.5,443.5 1349.4,414.2 1339,405.9 1328.9,397.5 1319.1,389 1309.7,380.4 1301.1,371.9 1293.6,364.1 1284,353.5 1276.2,344.2 1267.6,333.1 1260.7,323.3 1254.3,313.4 1248.2,303.1 1242.6,292.6 1237.5,281.7 1233.6,272.3 1230.1,262.5 1227.1,252.2 1224.6,241.3 1222.9,232.1 1221.8,222.2 1221.1,211.6 1221,200.1 1221.6,187.6 1222.6,177.3 1224.1,166.2 1226.2,154.2 1228.8,141.4 1232.1,127.8 1235.7,114.2 1240.3,98.3 M1396.4,451.1 1386.9,444.7 1343,417.5 1325.1,405.6 1314.9,398.3 1305,390.9 1295.5,383.3 1286.5,375.4 1276.5,366.1 1268.4,357.8 1259.5,347.8 1252.3,339 1245.6,329.9 1239.3,320.4 1233.5,310.6 1228.2,300.4 1223.5,289.5 1220,280 1217,269.8 1215.1,261.1 1213.5,251.8 1212.4,241.8 1211.9,230.8 1212,218.8 1213,205.3 1214.3,194.2 1216.2,182 1218.9,168.6 1222.2,154.2 1226.2,138.8 1230.6,123.7 1234.8,110.3 M1396.4,451.1 1386.4,445.9 1342.5,424.9 1322,414.2 1309.5,407.3 1299.3,401.1 1289.5,394.7 1280.1,388 1269.8,380 1260,371.6 1250.8,362.9 1243.4,355 1236.5,346.8 1230.1,338.2 1224.1,329.2 1218.7,319.5 1213.9,309.2 1210.4,299.9 1207.5,289.9 1205.5,281.2 1204.1,271.7 1203.1,261.2 1202.9,249.7 1203.1,240 1203.9,229.4 1205.3,217.7 1207.4,204.8 1210.2,190.4 1213.9,174.5 1218.5,157.4 1223.5,140.3 1228.4,124.9 M1396.4,451.1 1386,447.2 1340.7,431.3 1317.5,422.5 1304.8,417.1 1294.3,412.3 1282.5,406.3 1273,400.9 1262.4,394.3 1252.4,387.3 1243,379.9 1235.4,373.1 1228.3,365.9 1221.7,358.2 1215.6,350 1210,341 1205.8,333 1202.2,324.2 1199,314.5 1197,306 1195.4,296.5 1194.4,285.9 1194.1,274 1194.4,263.9 1195.3,252.6 1196.8,240 1199.2,225.8 1202.4,209.9 1206.7,192.1 1210.1,179.4 1215.7,160.2 1221.2,142.7 M1396.4,451.1 1385.8,448.5 1337.2,437.6 1313.7,431.6 1300.7,427.8 1288.2,423.8 1276.3,419.4 1266.6,415.4 1255.9,410.3 1245.7,404.7 1236.1,398.6 1228.3,393 1219.9,385.8 1213.4,379.3 1207,371.6 1202.2,364.7 1197.9,357.2 1194.1,348.8 1191,339.9 1188.7,330.8 1187,321.2 1186.2,313.1 1185.8,300.8 1186,290.3 1186.9,278.4 1188.5,264.8 1190.9,249.4 1194.5,231.7 1199.2,211.9 1203,197.7 1207,183.6 1213.1,163.8 M1396.4,451.1 1334.3,444.4 1320.2,442.7 1306.7,440.8 1293.7,438.7 1281.2,436.2 1269.4,433.4 1259.6,430.7 1248.8,427.1 1238.6,423 1228.9,418.4 1221.1,413.8 1213.8,408.8 1206.9,403 1203.6,399.9 1200.5,396.5 1195.5,390.4 1191,383.5 1187,375.6 1185.1,370.7 1183.6,366.4 1181.3,357.9 1179.5,348 1178.6,339.6 1178.2,333.4 1178.1,326.6 1178.3,315.2 1179.3,302.1 1181.1,286.8 1184,269.2 1186.6,256 1189.8,241.6 1193.6,226.2 1197.7,210.7 1204.2,188.7 M1396.4,451.1 1329.8,451.8 1302.3,451.6 1287.5,451.1 1275.2,450.3 1263.4,449.2 1253.7,447.8 1243,445.8 1232.7,443.2 1223.1,439.9 1215.2,436.5 1207.8,432.5 1200.8,427.8 1195.4,423.2 1190.2,417.8 1185.5,411.5 1182.9,407.2 1181.3,404.1 1178.2,397.1 1175.6,389 1173.5,379.5 1172.7,374 1172,368 1171.4,357.9 1171.3,346.1 1172,332.4 1172.9,321.8 1175.2,303.7 1177.5,290 1180.4,274.8 1184,258.5 1188.1,241.7 1194.6,217.6 M1396.4,451.1 1319.9,461 1295,463.9 1282.3,465.1 1270.2,465.9 1258.6,466.4 1249,466.4 1238.4,465.9 1228.3,464.8 1220,463.3 1212.1,461.2 1204.6,458.4 1198.6,455.5 1192.9,451.9 1187.6,447.5 1184.5,444.4 1182.6,442.2 1180.7,439.7 1178.2,436 1174.6,429.2 1171.6,421.6 1169,412.4 1167.3,403.1 1166,391 1165.5,379 1165.7,364.7 1166.3,353.6 1168.3,334.3 1170.3,319.4 1173.1,303 1176.5,285.5 1180.4,268 1184.7,250.6 M1396.4,451.1 1385.7,453.9 1357.6,460.7 1305.4,473.9 1287.1,478.4 1264.8,483.2 1255.1,484.9 1245.8,486.3 1235.3,487.3 1226.7,487.7 1218.5,487.5 1210.6,486.7 1203,485.1 1197,483.2 1191.2,480.5 1185.7,477 1182.5,474.4 1180.5,472.4 1177.8,469.4 1175.6,466.5 1172,460.5 1168.7,453.2 1167.1,448.8 1165.7,444 1163.8,435.6 1162.3,425.5 1161.2,413.4 1160.8,398.7 1161,387.1 1161.7,373.9 1163,359 1165.1,342.3 1167.8,324.2 1171.1,306 1175,287.6 M1396.4,451.1 1385.9,455.2 1342.1,471.3 1277.2,496.1 1257.7,502.9 1242.5,507.5 1233.8,509.6 1225.2,511.2 1217.3,512.2 1209.8,512.5 1203.2,512.2 1197.2,511.3 1191.3,509.5 1186.8,507.5 1183.5,505.6 1181.4,504 1178.3,501.3 1176.2,499.1 1172.3,493.9 1170.4,490.8 1168.5,487.3 1166.8,483.3 1165.1,478.7 1162.7,470.6 1160.6,460.8 1158.9,448.7 1157.7,433.8 1157.4,421.9 1157.5,408.2 1158.2,392.6 1159.6,375.1 1160.6,365.8 1163,347.2 1166.1,328.2 M1396.4,451.1 1386.3,456.5 1357.6,470.5 1334,482.4 1269.3,516.3 1254,523.9 1242.3,529 1233.9,532.4 1225.8,535.2 1217.9,537.3 1211.5,538.6 1205.3,539.3 1200.5,539.3 1194.6,538.7 1190,537.6 1186.6,536.3 1184.4,535.2 1180,532.3 1177.9,530.4 1175.8,528.3 1173.7,525.7 1171.7,522.8 1169.6,519.4 1167.7,515.5 1164.8,508.5 1162.1,499.7 1159.5,488.7 1157.3,474.9 1156.2,463.7 1155.3,450.7 1155,435.7 1155.2,418.6 1156.2,400.1 1157.7,382.4 1158.8,371.7 M1396.4,451.1 1386.8,457.7 1357.3,476.1 1336.5,489.5 1314.9,503.8 1268.1,535.7 1255,544.1 1243.8,550.9 1235.7,555.3 1229.2,558.6 1222.7,561.4 1216.5,563.8 1210.4,565.5 1205.6,566.5 1199.7,567 1195.1,566.7 1191.6,566.1 1189.4,565.4 1186,564 1183.8,562.8 1181.6,561.2 1179.4,559.3 1177.2,557 1175,554.4 1172.8,551.2 1170.6,547.4 1167.3,540.4 1164.1,531.5 1161.9,524.2 1159.9,515.5 1158,505.3 1156.2,493.2 1154.8,479.1 1153.8,462.9 1153.4,445.1 1153.7,427.8 1154.1,417.3 M1396.4,451.1 1387.3,458.9 1354.7,484.1 1332.5,501.7 1312.4,518.4 1268.5,555.5 1257.5,564.4 1246.9,572.5 1240.4,577.1 1234.1,581.3 1227.9,585.1 1221.8,588.3 1215.8,591 1211.1,592.7 1206.5,593.8 1201.9,594.5 1198.5,594.5 1196.2,594.3 1191.6,593.1 1189.4,592.2 1187.1,590.9 1184.8,589.3 1182.5,587.4 1180.1,584.9 1177.8,581.9 1174.1,576.2 1170.4,568.6 1167.9,562.3 1165.3,554.7 1162.8,545.7 1160.2,534.8 1157.8,521.9 1155.7,506.9 1154,490.2 1152.9,473.8 1152.6,463.7 M1396.4,451.1 1388,459.9 1353.1,492.6 1331.6,513.4 1312.8,532.2 1273.2,572.7 1262.8,583 1252.7,592.5 1240.4,603 1234.5,607.5 1228.6,611.6 1223.9,614.5 1219.3,617 1214.7,618.9 1210.2,620.4 1207.1,621 1204.5,621.2 1199.9,621 1197.6,620.5 1195.3,619.7 1191.8,617.9 1189.4,616.2 1186.9,614 1183.1,609.5 1179.1,603.4 1176.3,598.2 1173.3,591.8 1170.3,583.9 1167.2,574.5 1164,563 1160.9,549.6 1158,534.4 1155.8,519.2 1154.7,509.9 M1396.4,451.1 1388.7,460.9 1353.3,500.8 1333.4,523.8 1317.4,542.8 1280.4,587.7 1270.5,599.3 1262.1,608.7 1250.3,621 1244.6,626.5 1238.8,631.6 1233.2,636.1 1228.7,639.3 1224.2,642 1219.7,644.2 1216.3,645.4 1214.1,646.1 1209.5,646.7 1207.2,646.6 1204.8,646.3 1201.3,645.2 1197.5,643.2 1193.6,640 1189.5,635.3 1186.5,631.1 1183.4,625.9 1180.1,619.4 1176.6,611.4 1172.9,601.6 1169.1,589.8 1165.4,576.4 1162.2,562.9 1160.4,554.4 M1396.4,451.1 1389.5,461.8 1341.7,526.4 1325.5,548.9 1290.9,598.1 1281.6,611 1273.6,621.6 1261.2,636.9 1255.6,643.2 1250,649.1 1244.5,654.5 1240.1,658.5 1235.7,662 1231.2,665 1225.7,668 1221.1,669.6 1218.8,670.1 1216.5,670.4 1212.9,670.2 1209.2,669.2 1205.3,667.2 1201.1,663.9 1198.1,660.7 1194.9,656.7 1191.5,651.5 1187.8,645 1183.8,636.8 1179.6,626.9 1175.4,615.4 1171.5,603.7 1169.3,596.3 M1396.4,451.1 1390.4,462.6 1386.6,468.9 1347.4,531.8 1305.3,601.3 1288.9,627.2 1277,644.6 1270.6,653.4 1265.2,660.3 1259.8,666.8 1255.5,671.6 1250,677.2 1245.7,681.2 1240.1,685.5 1235.7,688.4 1231.1,690.5 1227.6,691.5 1224,692 1220.2,691.7 1216.2,690.4 1212,687.9 1208.9,685.4 1207.3,683.8 1203.8,679.9 1200.1,674.7 1196.1,668.2 1191.8,660.2 1187.3,650.6 1180.7,634.5 M1396.4,451.1 1391.4,463.3 1381.1,483.8 1350.3,542.7 1321.7,597.9 1305.4,628 1293.2,648.9 1287.1,658.8 1281.9,666.6 1276.6,674 1271.4,681.1 1266,687.7 1260.6,693.8 1255.1,699.2 1250.7,703.1 1246.2,706.4 1241.5,709 1237.9,710.4 1234.2,711.2 1230.3,711.2 1226.2,710.3 1223.2,709.1 1221.7,708.2 1218.4,705.8 1214.9,702.6 1211.1,698.2 1207,692.5 1202.5,685.5 1198.1,677.5 1193.6,668.5 M1396.4,451.1 1392.4,463.9 1386.7,478.2 1378.8,497 1342.1,581.2 1332.8,602 1324.5,620 1312.4,644.7 1306.5,655.8 1300.8,666 1295.1,675.7 1289.7,684 1284.6,691.6 1279.3,698.8 1273.9,705.6 1268.4,711.8 1262.8,717.3 1258.2,721.1 1253.4,724.4 1249.2,726.5 1244.6,727.9 1240.5,728.3 1236.2,727.7 1233.1,726.7 1229.8,724.9 1228,723.7 1224.3,720.6 1220.3,716.5 1216,711.1 1211.7,704.9 1207.2,697.8 M1396.4,451.1 1393.5,464.3 1388.1,481.6 1380.9,503.3 1371.9,529.2 1359.6,563.3 1349.9,589.6 1341.8,610.7 1336,625 1330.1,639 1324.9,650.6 1319.5,661.9 1314,672.8 1309.3,681.5 1303.4,691.7 1298.3,699.7 1292,708.9 1286.6,716.1 1281,722.8 1275.3,728.9 1269.3,734.3 1264.4,737.9 1259.2,740.7 1255.1,742.1 1250.8,742.8 1247.8,742.8 1244.6,742.2 1242.9,741.7 1239.4,740.2 1235.6,737.8 1233.6,736.2 1229.5,732.4 1225.3,727.8 1221.1,722.4 M1396.4,451.1 1394.6,464.7 1394,467.2 1390,484.9 1385.1,504.6 1379.1,527.1 1372.1,552 1365.4,574.7 1358.5,596.8 1353.6,611.8 1348.6,626.5 1343.4,640.7 1338.7,652.7 1333.8,664.3 1328.6,675.5 1323.2,686.5 1318.5,695.3 1312.6,705.5 1307.5,713.6 1301,722.8 1295.3,730.1 1289.5,736.8 1283.3,742.8 1278.2,747.1 1272.9,750.7 1270.1,752.2 1267.2,753.4 1262.7,754.7 1257.9,755.1 1254.5,754.7 1250.8,753.8 1248.9,753 1245,750.9 1240.9,748 1237.1,744.7 1234.9,742.5 M1396.4,451.1 1395.7,464.9 1395.4,467.4 1392.8,485.3 1389.4,505.3 1385.8,524.8 1381.3,546.3 1376.7,567.1 1371.9,587.4 1368,602.8 1363.8,617.8 1359.5,632.5 1355.5,644.8 1351.3,656.8 1346.7,668.8 1342,680 1337,690.7 1332.3,700.1 1326.5,710.5 1320.3,720.6 1314.9,728.6 1307.9,737.6 1301.8,744.6 1295.4,751.1 1289.9,755.6 1284.2,759.6 1281.2,761.3 1278.1,762.7 1273.3,764.3 1268.1,765 1264.4,764.9 1262.5,764.6 1258.5,763.5 1254.5,761.8 1250.9,759.7 1248.7,758.2 M1396.4,451.1 1396.8,464.9 1396.7,467.5 1395.6,485.5 1393.8,505.6 1391.9,522.7 1389.4,541.9 1386.7,560.6 1383.6,578.8 1380.7,594.4 1377.6,609.6 1374.2,624.5 1371,637 1367.4,649.4 1363.7,661.2 1359.6,672.9 1355.1,684.4 1350.2,695.5 1344.8,706.4 1339,716.9 1333.8,725.4 1327.1,735.2 1321.1,742.9 1314.7,750.2 1307.9,757 1302.1,761.9 1296,766.2 1292.8,768 1289.4,769.7 1284.2,771.6 1278.5,772.6 1274.6,772.8 1272.5,772.6 1268.5,771.9 1264.8,770.8 1262.7,770 M1396.4,451.1 1398,464.9 1398.1,470 1398.4,487.8 1398.3,505.3 1397.7,522.3 1396.6,541.4 1395.2,559.9 1393.6,575.8 1391.7,591.3 1389.9,604.3 1387.4,619.2 1384.9,631.7 1382.2,643.9 1379.1,655.9 1375.6,667.7 1371.7,679.3 1367.3,690.6 1362.5,701.6 1357.2,712.4 1352.3,721.2 1345.9,731.4 1340,739.6 1333.8,747.5 1327,755 1319.7,761.9 1313.4,767 1306.7,771.5 1301.3,774.4 1295.5,776.6 1289.4,778.1 1285.2,778.5 1283.2,778.5 1277.3,777.9 M1396.4,451.1 1399.1,464.7 1399.7,469.7 1401.5,487.3 1402.7,504.5 1403.4,521.3 1403.8,537.8 1403.7,553.8 1403.3,571.7 1402.5,587 1401.5,599.9 1400,614.6 1398.3,626.9 1396.3,639.1 1393.9,651 1391,662.7 1387.7,674.2 1384,685.5 1379.7,696.6 1374.8,707.4 1370.2,716.3 1365.2,725.1 1359.7,733.6 1353.7,741.9 1347.2,749.9 1340,757.5 1333.8,763.3 1327.1,768.7 1319.8,773.6 1316,775.8 1311.9,777.8 1305.5,780.2 1299,781.7 1292.9,782.4 M1396.4,451.1 1400.2,464.3 1401.2,469.3 1404.4,486.4 1407.4,505.6 1409.4,522 1410.9,538 1412,553.6 1412.7,568.9 1412.9,583.8 1412.8,596.4 1412.2,610.7 1411.3,622.8 1410,634.7 1408.3,646.3 1406.1,657.8 1403.4,669.1 1400.2,680.3 1397.1,689.5 1392.8,700.3 1388.7,709.2 1384.1,718 1379,726.7 1373.3,735.2 1367,743.5 1360,751.6 1353.9,757.9 1347.2,763.9 1339.9,769.5 1331.9,774.7 1325.4,778.1 1318.6,780.9 1314.3,782.3 1310,783.4 M1396.4,451.1 1401.3,463.9 1403.4,470.8 1407.9,487.2 1411.9,503.8 1414.7,517.3 1417.6,532.9 1419.9,548.1 1421.8,562.9 1423.2,577.4 1424.1,591.6 1424.4,605.5 1424.3,617.2 1423.8,628.7 1422.8,640.1 1421.3,651.3 1419.3,662.3 1416.7,673.2 1414.1,682.2 1410.4,692.9 1406.8,701.7 1402.6,710.5 1397.9,719.2 1392.5,727.7 1386.5,736.2 1379.7,744.6 1373.7,751.1 1367.1,757.5 1359.8,763.7 1351.6,769.6 1345,773.6 1338,777.3 1333.5,779.3 1329.1,780.9 M1396.4,451.1 1402.3,463.3 1405,469.9 1410.9,485.6 1416.2,501.4 1420.2,514.4 1424.3,529.3 1427.8,543.8 1430.8,558.1 1433.2,571.6 1434.9,583.7 1436.3,597.1 1437.1,608.3 1437.4,621.3 1437.2,632.2 1436.5,643 1435.2,653.7 1433.4,664.3 1431.4,673 1428.3,683.4 1425.2,692.1 1421.6,700.7 1417.4,709.3 1412.5,717.9 1406.9,726.4 1400.5,734.9 1394.8,741.6 1388.4,748.3 1381.2,754.9 1373.1,761.4 1366.4,766 1359.4,770.3 1350.3,775 M1396.4,451.1 1403.3,462.6 1406.5,468.8 1413.8,484 1420.4,498.6 1425.4,510.9 1430.7,525 1435.4,538.8 1439.5,552.3 1442.9,565.1 1445.6,576.6 1448,589.3 1449.6,600 1450.9,612.3 1451.5,622.8 1451.6,633.1 1451.1,643.3 1450,653.4 1448.7,661.8 1446.4,671.9 1444,680.3 1441,688.7 1437.4,697.1 1433.1,705.5 1428.1,714 1422.3,722.5 1417,729.4 1410.9,736.2 1404.1,743.1 1396.3,750 1389.8,755.1 1382.8,760 1373.7,765.6 M1396.4,451.1 1404.3,461.8 1408.1,467.8 1416.6,481.7 1424.3,495.3 1430.4,506.8 1436.8,520 1442.6,532.9 1447.8,545.5 1452.3,557.5 1455.8,568.3 1459.3,580.2 1461.8,590.3 1464,601.9 1465.5,611.7 1466.4,621.4 1466.7,631.1 1466.5,640.7 1465.9,648.7 1464.5,658.3 1462.8,666.3 1460.5,674.4 1457.6,682.5 1454.1,690.7 1449.8,699 1444.7,707.4 1440,714.3 1434.5,721.2 1428.2,728.2 1420.9,735.4 1414.7,740.8 1408.1,746.2 1399.3,752.4 M1396.4,451.1 1405.1,460.9 1409.3,466.2 1419.1,479.1 1428.6,492.6 1436.1,503.9 1443.6,516 1449.5,526.2 1455.7,537.8 1461.1,548.9 1465.6,558.9 1470.1,569.9 1473.4,579.3 1476.6,590 1478.9,599.1 1480.7,608.2 1481.9,617.2 1482.6,626.2 1482.7,633.6 1482.2,642.7 1481.3,650.2 1479.8,657.9 1477.8,665.6 1475.1,673.4 1471.7,681.4 1467.5,689.6 1463.4,696.3 1458.7,703.1 1453.1,710.2 1446.6,717.5 1441,723.1 1434.9,728.6 1426.7,735.3 M1396.4,451.1 1405.9,459.9 1410.7,464.8 1421.4,476.3 1431.3,487.6 1439.3,497.1 1447.8,508 1454.7,517.2 1462,527.8 1467.8,536.7 1473.9,547 1479.4,557 1484.1,566.6 1488,575.3 1491.7,585 1494.3,593.3 1496.4,601.5 1497.9,609.8 1498.8,616.6 1499.3,625 1499.2,632 1498.6,639 1497.4,646.3 1495.7,653.6 1493.2,661.1 1490,668.9 1486.9,675.3 1483,681.9 1478.4,688.8 1472.8,696 1468,701.6 1462.6,707.3 1455.4,714.2 M1396.4,451.1 1406.6,458.8 1411.6,463 1423.4,473.2 1434.3,483.1 1443.1,491.5 1452.6,501.2 1460.2,509.3 1468.5,518.7 1475,526.6 1482.1,535.6 1488.5,544.6 1494.1,553.1 1498.8,560.9 1503.4,569.5 1506.9,576.9 1509.8,584.2 1512.3,591.6 1513.9,597.8 1515.4,605.2 1516.1,611.6 1516.4,618 1516.1,624.5 1515.4,631.3 1514,638.2 1511.9,645.4 1509.6,651.3 1506.8,657.6 1503.2,664.1 1498.9,671 1494.9,676.4 1490.5,682 1484.4,688.8 M1396.4,451.1 1407.2,457.6 1412.8,461.3 1425.2,469.9 1437,478.3 1446.4,485.5 1456.8,493.8 1465.1,500.8 1474.2,508.8 1481.5,515.6 1489.3,523.4 1496.6,531.1 1503.1,538.5 1508.5,545.1 1514,552.6 1518.2,559 1522,565.3 1525.3,571.7 1527.7,577.1 1530,583.6 1531.6,589.2 1532.7,594.8 1533.4,600.5 1533.6,606.5 1533.3,612.6 1532.3,619 1531.1,624.4 1529.3,630 1526.9,636 1523.8,642.3 1520.9,647.4 1517.5,652.6 1512.8,659.1 M1396.4,451.1 1407.7,456.4 1413.4,459.3 1426.7,466.4 1439.2,473.3 1458.8,485 1467.8,490.7 1477.7,497.4 1485.6,503 1494.3,509.4 1501.3,514.9 1508.9,521.2 1515.8,527.4 1521.3,532.7 1527.2,538.9 1531.8,544.2 1536,549.5 1539.1,554 1542.4,559.4 1544.7,564 1546.8,568.6 1548.4,573.5 1549.6,578.4 1550.4,583.6 1550.6,589 1550.4,593.5 1549.8,598.2 1548.7,603.3 1547.1,608.7 1545.4,613.1 1542.5,619.2 1539.3,625 M1396.4,451.1 1408.1,455.1 1414,457.3 1439.1,467.3 1459.9,476.2 1480.1,485.8 1498,495.2 1513.8,504.3 1521.4,509.1 1527.7,513.3 1534.2,518.1 1539.5,522.2 1544.3,526.3 1548.8,530.5 1552.8,534.7 1555.8,538.3 1558.5,541.9 1560.9,545.7 1562.9,549.6 1564.6,553.6 1565.8,557.9 1566.4,561.5 1566.8,565.3 1566.7,569.3 1566.2,573.7 1565.5,577.2 1564,582.1 1562.3,586.9 M1396.4,451.1 1414.7,455.4 1440.4,462.1 1461.8,468.2 1481.3,474.3 1500.2,480.8 1516.9,487.1 1531.8,493.4 1544.8,499.6 1555.2,505.4 1563.4,510.8 1569.7,515.9 1572.4,518.6 1574.8,521.4 1576.9,524.4 1578.3,526.8 1579.7,530.1 1580.5,533 1580.9,536 1581,538.5 1580.8,542 1580.2,545.4 M1396.4,451.1 1412.9,453 1437.3,456.2 1458.4,459.3 1478.2,462.4 1496.6,465.7 1514.5,469.1 1531.6,472.8 1545.6,476.2 1557,479.3 1567,482.5 1574.9,485.5 1580.9,488.5 1585.5,491.4 1587.4,493 1588.8,494.5 1590,496.1 1590.9,497.8 1591.5,499.6 1591.7,501.4"/>
<path stroke="#ff0000" stroke-width="2.5" d="M1414.9,451.1 1414.6,447 1413.6,443 1412,439.4 1409.8,436.1 1407.1,433.5 1403.9,431.5 1400.5,430.3 1397,429.9 1393.6,430.3 1390.2,431.5 1387.1,433.5 1384.5,436.1 1382.2,439.3 1380.6,443 1379.5,447 1379.1,451.3 1379.4,455.4 1380.3,459.5 1381.9,463.1 1384.1,466.3 1386.7,468.9 1389.8,470.9 1393.1,472.1 1396.5,472.4 1400,472 1403.4,470.8 1406.6,468.8 1409.4,466.1 1411.7,462.9 1413.4,459.2 1414.5,455.3 1414.9,451.2Z M1429.3,451.1 1429.2,447.2 1428.7,443.5 1427.9,439.8 1426.9,436.2 1425.5,432.8 1423.8,429.5 1421.8,426.3 1419.7,423.6 1417.3,421 1414.6,418.7 1411.7,416.7 1408.8,415 1405.7,413.7 1402.6,412.8 1399.5,412.3 1396.2,412.1 1393.2,412.3 1390,412.9 1386.9,413.8 1384,415.1 1381.1,416.7 1378.4,418.7 1375.9,421 1373.5,423.6 1371.4,426.5 1369.5,429.5 1367.9,432.8 1366.5,436.4 1365.4,440 1364.6,443.8 1364.1,447.6 1363.9,451.5 1364,455.4 1364.4,459.2 1365.1,463 1366.1,466.5 1367.4,470 1369,473.3 1370.9,476.4 1372.9,479.1 1375.1,481.6 1377.5,483.8 1380.2,485.8 1383,487.3 1386,488.6 1389.1,489.5 1392.1,490 1395.4,490.2 1398.6,490 1401.8,489.4 1405,488.4 1408.1,487.1 1411.1,485.4 1414,483.5 1416.7,481.1 1419.2,478.5 1421.4,475.7 1423.4,472.6 1425.1,469.4 1426.6,466 1427.7,462.3 1428.6,458.7 1429.1,455 1429.3,451.2Z M1444.4,451.1 1444.2,445.4 1443.5,439.8 1442.3,434.4 1440.6,429 1438.5,423.8 1436,419 1433.1,414.4 1429.8,410.2 1426.1,406.2 1422.1,402.8 1417.9,399.8 1413.4,397.3 1408.8,395.4 1403.9,394 1399.2,393.2 1394.4,392.9 1389.8,393.3 1385.1,394.2 1380.7,395.6 1376.4,397.5 1372.3,400 1368.3,403 1364.8,406.3 1361.3,410.3 1358.1,414.7 1355.4,419.4 1353.1,424.3 1351.1,429.5 1349.5,435 1348.4,440.7 1347.7,446.4 1347.4,452.2 1347.6,458 1348.2,463.6 1349.2,469 1350.7,474.4 1352.6,479.5 1354.9,484.4 1357.6,488.9 1360.6,493.1 1363.9,496.7 1367.5,500.1 1371.4,502.9 1375.6,505.2 1380.1,507.1 1384.5,508.4 1389,509.1 1393.6,509.3 1398.4,509 1403.4,508.1 1408.2,506.6 1412.8,504.6 1417.3,502.1 1421.4,499.2 1425.4,495.8 1429.2,491.9 1432.6,487.6 1435.6,483.1 1438.2,478.2 1440.3,473.2 1442,467.9 1443.3,462.4 1444.1,457 1444.4,451.3Z M1458.9,451.1 1458.6,443.7 1457.7,436.4 1456.1,429.1 1453.9,422.1 1451.1,415.3 1447.7,408.8 1443.7,402.6 1439.2,396.8 1434.1,391.4 1428.8,386.9 1423.2,383 1417.2,379.6 1411.1,377 1404.7,375.1 1398.4,374.1 1392,373.8 1385.9,374.2 1380,375.4 1374.2,377.3 1368.7,379.8 1363.2,383.1 1358.2,387 1353.5,391.5 1349.1,396.7 1345.1,402.4 1341.5,408.6 1338.4,415.5 1335.8,422.5 1333.8,429.8 1332.3,437.5 1331.4,445.1 1331.1,452.8 1331.3,460.5 1332.1,468 1333.5,475.5 1335.4,482.5 1337.9,489.4 1340.9,495.7 1344.4,501.8 1348.2,507 1352.6,512 1357.2,516.3 1362.4,520 1367.7,523.1 1373.3,525.4 1379.2,527.2 1385.2,528.2 1391.3,528.4 1397.7,528 1404.4,526.7 1410.7,524.8 1416.8,522.2 1422.7,518.8 1428.5,514.8 1434,510.1 1438.9,505 1443.4,499.3 1447.2,493.4 1450.7,487 1453.5,480.2 1455.8,473.3 1457.5,466 1458.5,458.7 1458.9,451.4Z M1473.2,451.1 1472.8,441.7 1471.6,432.7 1469.6,423.7 1466.8,414.9 1463.2,406.4 1458.9,398.2 1453.7,390.2 1448.1,383.1 1441.7,376.4 1435.1,370.8 1427.9,365.7 1420.4,361.5 1412.8,358.2 1408.8,356.9 1404.7,355.8 1400.6,354.9 1396.8,354.4 1392.6,354.1 1388.8,354 1384.9,354.2 1381.1,354.6 1374,356 1367.1,358.3 1360.2,361.5 1353.8,365.6 1347.5,370.6 1341.6,376.4 1336.4,382.7 1331.5,390 1327.1,398 1323.4,406.4 1320.3,415.2 1317.8,424.4 1316,434 1314.9,443.6 1314.5,453.6 1314.8,463.3 1315.8,472.7 1317.5,481.8 1319.9,490.9 1322.9,499.3 1326.7,507.6 1330.9,514.9 1335.6,521.6 1340.8,527.6 1346.7,533.1 1352.8,537.6 1359.4,541.5 1366.5,544.5 1373.5,546.5 1381.1,547.8 1388.8,548.1 1392.6,547.9 1396.8,547.5 1404.7,545.9 1412.7,543.4 1420.6,540 1428,535.7 1435.2,530.7 1441.7,525.1 1448.1,518.5 1453.7,511.4 1458.7,503.8 1463.1,495.6 1466.6,487.3 1469.4,478.8 1471.5,469.8 1472.7,460.8 1473.2,451.4Z M1487.3,451.1 1487.2,445.5 1486.8,440 1486.2,434.5 1485.3,428.9 1484.2,423.4 1482.8,417.9 1481.3,412.9 1479.4,407.5 1477.2,402.1 1475,397.1 1472.5,392.2 1469.5,387 1463.5,377.9 1460.3,373.6 1456.5,369.1 1452.8,365.1 1448.9,361.1 1444.7,357.4 1440.6,354 1436,350.6 1431.5,347.6 1426.9,344.9 1422.5,342.5 1417.9,340.4 1413.2,338.6 1408.4,337 1403.5,335.6 1398.4,334.6 1393.8,333.9 1389.2,333.6 1384.6,333.5 1379.9,333.7 1375.8,334.2 1371.2,335 1367.2,336 1363.2,337.2 1358.8,338.8 1355.1,340.5 1350.9,342.7 1347,345.1 1343.2,347.8 1339.5,350.6 1336.1,353.6 1332.8,356.8 1329.4,360.6 1326.2,364.4 1323.2,368.4 1317.6,377 1312.5,386.7 1308.1,397 1304.5,407.8 1301.5,419.4 1299.4,430.9 1298.2,442.5 1297.7,454.5 1298.1,466.2 1299.3,477.6 1301.4,489 1304.2,499.6 1307.7,509.8 1312,519.5 1317,528.5 1319.7,532.6 1322.7,536.7 1325.8,540.6 1328.9,544 1332.1,547.3 1335.6,550.4 1339.2,553.3 1343,556 1346.9,558.4 1350.6,560.4 1354.8,562.4 1358.6,563.9 1362.6,565.2 1367.1,566.5 1371.2,567.3 1375.8,567.9 1380.5,568.3 1385.1,568.3 1389.8,568.1 1394.9,567.6 1399.4,566.8 1404.4,565.7 1409.3,564.3 1414.1,562.6 1418.7,560.7 1423.2,558.6 1428,556.1 1432.6,553.3 1437,550.3 1441.2,547.2 1445.2,543.9 1449.4,540.2 1453.3,536.3 1457,532.2 1460.4,528.1 1463.9,523.5 1466.9,519.2 1469.9,514.4 1472.6,509.6 1475.1,504.7 1479.4,494.8 1481.3,489.3 1482.8,484.3 1485.3,473.7 1486.2,468.1 1486.8,462.6 1487.2,457.1 1487.3,451.5Z M1499.9,451.1 1499.8,444.8 1499.3,438 1498.5,431.7 1497.5,425.4 1496.2,419.2 1494.6,412.9 1492.7,406.7 1490.5,400.6 1488,394.4 1485.4,388.8 1482.3,382.8 1479.1,377.3 1475.7,371.8 1471.9,366.5 1467.9,361.2 1463.6,356 1458.9,351 1454.4,346.5 1449.5,342.1 1444.9,338.3 1439.5,334.3 1434.3,330.9 1428.9,327.6 1423.8,324.9 1418.5,322.4 1413,320.2 1407.4,318.3 1401.7,316.7 1395.8,315.5 1390.4,314.7 1385,314.3 1379.6,314.2 1374.8,314.5 1369.9,315 1365.2,315.9 1360.5,317 1355.8,318.5 1351.3,320.2 1346.9,322.2 1342.1,324.8 1338.1,327.4 1333.6,330.5 1329.4,333.9 1325.5,337.6 1321.7,341.4 1318.2,345.4 1314.5,350 1311.1,354.7 1307.9,359.5 1304.8,364.9 1301.8,370.3 1299,376.3 1296.4,382.3 1294,388.4 1290,400.9 1288.2,407.4 1286.7,414.4 1284.4,427.8 1282.9,441.7 1282.5,455.6 1282.9,469.1 1283.5,476.1 1284.4,482.7 1285.4,489.3 1286.7,496 1288.2,502.1 1289.9,508.3 1291.9,514.5 1294,520.2 1296.3,525.8 1298.9,531.4 1301.8,537 1304.7,542 1307.9,546.8 1311,551.1 1314.3,555.3 1317.8,559.3 1321.5,563.1 1325.5,566.8 1329.7,570.2 1333.6,573 1338.2,575.9 1342.4,578.3 1347.3,580.6 1351.8,582.4 1356.4,583.9 1361.1,585.2 1365.9,586.1 1371.2,586.8 1376.1,587.2 1381.5,587.3 1386.9,587 1392.3,586.4 1397.6,585.5 1403.4,584.2 1409.1,582.6 1414.6,580.6 1420,578.4 1425.7,575.7 1431.3,572.7 1436.6,569.4 1441.7,566 1446.5,562.3 1451.5,558.2 1456.3,553.8 1460.8,549.3 1465,544.7 1469,539.9 1473,534.6 1476.4,529.7 1479.8,524.2 1482.9,518.7 1485.8,513.1 1488.6,507 1490.9,501.3 1493,495.1 1494.8,489.4 1496.4,483.1 1497.6,476.8 1498.6,470.5 1499.4,464.2 1499.8,457.9 1499.9,451.6Z M1513.4,451.1 1513.2,444 1512.6,436.3 1511.7,428.7 1510.5,421.6 1508.8,414 1506.9,407 1504.7,400 1502,392.6 1499.1,385.7 1495.9,378.8 1492.3,372 1488.7,365.8 1484.4,359.2 1480.1,353.1 1475.5,347.1 1470.5,341.2 1465.2,335.5 1459.9,330.4 1454.4,325.4 1448.5,320.5 1442.3,315.9 1436.3,311.9 1430.1,308.2 1423.5,304.7 1416.8,301.5 1410.4,299 1403.8,296.8 1397.8,295.2 1391.6,293.9 1385.3,293 1379,292.5 1372.7,292.4 1367.1,292.8 1361.5,293.5 1355.9,294.6 1351.2,295.9 1346.5,297.5 1341.3,299.6 1336.2,302.1 1331.3,305 1326.6,308.1 1321.6,311.9 1317.4,315.6 1312.9,320 1308.6,324.6 1304.7,329.4 1301,334.3 1297.2,339.9 1293.6,345.6 1290.1,352 1286.9,358.4 1284,364.8 1281.1,371.8 1278.5,378.9 1276.1,386.4 1273.9,394 1272,401.5 1270.3,409.5 1268.9,417.5 1267.7,425.5 1266.9,433.5 1266.3,441.4 1265.9,449.4 1265.8,457.4 1266,465.4 1266.4,472.9 1267.1,480.9 1268.1,488.5 1269.3,496.1 1270.8,503.8 1272.4,510.9 1274.4,518 1276.7,525.2 1279,531.8 1281.7,538.3 1284.7,544.8 1287.7,550.7 1291,556.5 1294.6,562.2 1298.1,567.2 1301.9,572.1 1305.9,576.8 1310.2,581.3 1314.8,585.6 1319.7,589.6 1324.2,592.8 1328.9,595.9 1333.8,598.6 1338.9,601 1344.1,603.1 1349.4,604.9 1354.8,606.3 1360.3,607.3 1365.9,608.1 1371.5,608.4 1377.1,608.5 1383.4,608.1 1389.6,607.4 1395.7,606.3 1402.4,604.7 1409,602.7 1415.4,600.4 1421.6,597.8 1427.6,594.9 1434,591.4 1440.1,587.6 1445.9,583.6 1451.5,579.4 1457.3,574.6 1462.7,569.6 1467.9,564.4 1473.1,558.7 1477.6,553.2 1482.2,547.2 1486.4,541.1 1490.3,534.9 1494.1,528.2 1497.4,521.8 1500.3,515.4 1503.1,508.4 1505.4,501.9 1507.5,494.9 1509.3,487.8 1510.8,480.7 1511.9,473.6 1512.7,466.4 1513.2,459.3 1513.4,451.6Z M1525.3,451.1 1525,442.7 1524.3,434.3 1523.3,426.4 1521.9,418.1 1520.2,410.3 1517.9,402 1515.3,393.7 1512.5,386.1 1509.3,378.5 1505.7,371 1501.7,363.5 1497.4,356.1 1492.7,348.7 1487.9,342 1482.4,334.9 1476.9,328.4 1471,322 1464.6,315.7 1457.9,309.6 1451.3,304.2 1444.4,299 1437.6,294.5 1430.6,290.2 1423.3,286.2 1415.6,282.5 1408.4,279.5 1401,277 1394.1,275 1387.1,273.5 1380,272.4 1372.8,271.9 1366.4,271.8 1360,272.2 1354.4,272.9 1348.2,274.2 1342.8,275.7 1337.5,277.6 1331.6,280.1 1326.6,282.7 1321.2,286 1316,289.8 1311,293.8 1306.3,298.1 1301.8,302.6 1297.6,307.4 1293.2,312.9 1289.1,318.6 1284.9,325.1 1281.1,331.7 1277.2,338.9 1273.7,346.3 1270.2,354.3 1267.1,362.2 1264.3,370.2 1261.7,378.7 1259.4,387.2 1257.4,395.6 1255.6,404.7 1254,413.6 1252.8,422.5 1251.9,431.4 1251.2,440.9 1250.9,449.8 1250.8,458.7 1251,467.7 1251.5,476 1252.2,485 1253.3,493.5 1254.6,502 1256.2,510.6 1258.1,518.6 1260.2,526.6 1262.7,534.6 1265.3,542.1 1268.2,549.5 1271.5,556.8 1274.8,563.5 1278.4,570.1 1282.4,576.6 1286.3,582.3 1290.5,587.8 1295,593.2 1299.9,598.3 1304.4,602.7 1309.2,606.8 1314.3,610.6 1319.5,614.1 1325,617.2 1330.7,620 1336.6,622.4 1341.8,624.2 1347.9,625.8 1353.4,626.9 1359.7,627.8 1366,628.2 1372.3,628.3 1379.4,627.9 1386.4,627 1393.4,625.7 1400.2,624 1406.9,622 1414.1,619.4 1421.1,616.4 1428.6,612.7 1435.7,608.8 1442.6,604.5 1449.1,600 1455.9,594.8 1462.4,589.4 1468.4,583.8 1474.2,578 1480,571.6 1485.4,565 1490.5,558.4 1495.2,551.6 1499.5,544.7 1503.4,537.8 1507.3,530.2 1510.8,522.6 1513.7,515.4 1516.4,507.7 1518.8,499.9 1520.8,492.1 1522.5,483.7 1523.7,475.9 1524.6,468 1525.1,460.1 1525.3,451.7Z M1537.4,451.1 1537.1,442.5 1536.4,433.3 1535.2,424.1 1533.6,415 1531.5,405.9 1529.1,396.8 1526.1,387.8 1523,379.5 1519.2,370.6 1515.3,362.3 1510.9,354.2 1505.8,345.5 1500.6,337.4 1494.9,329.5 1488.8,321.6 1482.6,314.4 1475.6,306.8 1468.5,299.8 1461.1,293.1 1453.7,287 1446,281.1 1437.8,275.5 1429.9,270.5 1421.6,266 1413,261.7 1404.8,258.3 1396.4,255.3 1388.6,253 1380.7,251.2 1373.5,250.1 1365.4,249.4 1358.1,249.3 1351.8,249.7 1345.5,250.6 1339.3,251.9 1333.2,253.6 1327.3,255.9 1321.5,258.5 1316,261.6 1310.6,265 1305.5,268.8 1300,273.5 1294.8,278.6 1289.9,283.9 1285.3,289.4 1280.5,295.9 1276,302.5 1271.9,309.2 1267.7,316.7 1263.5,325 1259.7,333.4 1256.3,341.7 1253,350.7 1249.8,360.4 1246.9,370 1244.5,379.4 1242.3,388.9 1240.4,398.9 1238.7,408.9 1237.4,419.5 1236.4,429.3 1235.6,439.9 1235.3,450.4 1235.2,460.3 1235.4,470.2 1236,480.1 1236.9,490.1 1238,499.5 1239.5,509 1241.3,518.5 1243.3,527.4 1245.7,536.4 1248.4,545.4 1251.3,553.7 1254.5,562 1257.8,569.5 1261.4,577 1265.3,584.5 1269.7,591.8 1274,598.3 1278.6,604.6 1283,610.1 1288.3,615.9 1293.4,620.9 1298.7,625.6 1304.3,630 1310.1,634 1315.5,637.2 1321.8,640.4 1327.6,642.8 1333.4,644.9 1340.3,646.8 1346.4,648 1353.4,649 1359.6,649.4 1366.8,649.5 1374.7,649 1382.6,647.9 1390.4,646.4 1398.1,644.4 1405.6,642 1413.7,639 1421.5,635.5 1429.8,631.3 1437.8,626.7 1445.4,621.9 1452.6,616.8 1460.2,610.9 1467.3,604.9 1474,598.6 1480.9,591.7 1487.3,584.5 1493.2,577.3 1498.8,569.9 1503.9,562.4 1509,554.3 1513.4,546.7 1517.6,538.3 1521.4,530 1524.8,521.5 1527.8,513.1 1530.4,504.5 1532.7,495.4 1534.4,486.8 1535.7,478.2 1536.7,469.6 1537.2,460.9 1537.4,451.7Z M1548,451.1 1547.7,441.2 1546.9,431.3 1545.5,421.4 1543.8,411.6 1541.5,401.8 1538.8,392.1 1535.6,382.4 1532,372.8 1527.8,363.3 1523.2,353.8 1518.1,344.4 1512.9,335.7 1507.2,327 1501,318.4 1494.4,309.9 1487.2,301.5 1479.5,293.2 1471.8,285.5 1463.7,278.1 1455,270.8 1446.5,264.2 1437.5,257.9 1427.9,251.9 1418.8,246.7 1410.1,242.3 1401,238.3 1391.7,234.8 1383,232.1 1374.1,230 1366.1,228.6 1358,227.9 1349.9,227.8 1342.9,228.2 1336.9,229.1 1330,230.6 1324.3,232.3 1318.6,234.5 1312.3,237.5 1306.2,241.1 1300.3,245.1 1294.8,249.5 1289.5,254.3 1284.6,259.3 1279.2,265.4 1274.3,271.7 1269.1,279.1 1264.3,286.5 1260,294.1 1255.5,302.6 1251.1,312 1247.1,321.3 1243.5,330.5 1239.9,340.5 1236.5,351.2 1233.6,361.8 1231,372.2 1228.6,383.3 1226.5,394.3 1224.8,405.1 1223.4,416.7 1222.3,427.4 1221.6,438.9 1221.2,450.3 1221.1,461.1 1221.4,471.8 1222,482.6 1222.9,493.5 1224.1,503.8 1225.7,514.1 1227.6,524.5 1229.9,535 1232.4,544.8 1235.3,554.7 1238.4,563.8 1241.8,573 1245.3,581.3 1249.2,589.6 1253.4,597.8 1258.1,606 1262.8,613.2 1267.8,620.3 1273.2,627.1 1278.3,633 1283.8,638.5 1289.6,643.8 1294.9,648.1 1301.4,652.6 1307.2,656.2 1313.3,659.4 1319.6,662.2 1326,664.5 1332.6,666.4 1339.3,667.8 1346.2,668.8 1353,669.3 1360.9,669.3 1368.7,668.8 1377.5,667.7 1386.1,665.9 1394.5,663.7 1402.8,661 1411.7,657.5 1420.4,653.6 1429.5,648.9 1438.2,643.8 1446.6,638.4 1454.6,632.8 1462.8,626.3 1470.6,619.7 1478.5,612.3 1486,604.7 1492.9,596.9 1499.4,589.1 1505.5,581.1 1511.1,573 1516.6,564.2 1521.7,555.3 1526.3,546.3 1530.4,537.3 1534.1,528.2 1537.4,519.1 1540.4,509.3 1542.9,499.4 1544.8,490.2 1546.3,480.2 1547.3,471 1547.9,461.7 1548.1,451.8Z M1559.2,451.1 1558.8,440.5 1557.9,429.8 1556.4,419.3 1554.3,408 1551.7,396.9 1548.7,386.5 1545.2,376.1 1541.2,365.8 1536.7,355.6 1531.7,345.4 1526.2,335.3 1520.1,325.2 1513.5,315.2 1506.8,306 1499.5,296.8 1491.7,287.6 1483.4,278.6 1474.4,269.6 1464.7,260.7 1455.2,252.6 1445,244.7 1435,237.6 1424.4,230.8 1414.2,224.8 1404.5,219.8 1394.3,215.1 1384.9,211.4 1375.1,208.1 1365.2,205.6 1356.2,204 1347.1,203.1 1339.1,203 1332.4,203.5 1325.7,204.5 1319.1,206.1 1312.8,208.2 1306.6,210.8 1300.6,214 1294.9,217.6 1288.5,222.3 1283.3,226.8 1277.6,232.4 1272.3,238.3 1266.6,245.4 1261.3,252.7 1256.5,260.3 1251.4,268.8 1246.8,277.5 1242.1,287.1 1237.9,296.7 1233.6,307.1 1229.5,318.4 1225.8,329.4 1222.3,341.2 1219.2,352.9 1216.3,365.2 1213.8,377.3 1211.7,389.3 1209.9,401.1 1208.4,413.7 1207.3,426.2 1206.5,438.7 1206.1,451.1 1206.1,462.7 1206.4,475.3 1207.1,487 1208.1,498.9 1209.5,510 1211.1,521.3 1213.2,532.7 1215.5,543.3 1218.2,554 1221.3,564.8 1224.5,574.8 1228.2,584.9 1231.9,594.1 1236,603.3 1240.6,612.5 1245.6,621.5 1250.6,629.6 1255.9,637.5 1261.1,644.4 1266.6,651 1272.5,657.3 1278.8,663.3 1284.6,668.2 1290.7,672.8 1297,676.9 1303.7,680.6 1310.6,683.7 1317.7,686.4 1323.9,688.2 1331.3,689.8 1338.8,690.9 1346.4,691.4 1354,691.4 1362.7,690.8 1371.3,689.5 1380.9,687.5 1390.3,684.9 1399.4,681.8 1409.3,677.8 1418.8,673.4 1428.8,668.1 1438.4,662.4 1447.6,656.3 1457,649.4 1466,642.3 1474.5,635 1483.1,626.9 1491.1,618.6 1498.7,610.1 1505.7,601.6 1512.8,592.3 1518.8,583.5 1524.8,574 1530.3,564.5 1535.3,554.8 1539.8,545.1 1544.1,534.7 1547.6,524.8 1550.8,514.3 1553.5,503.7 1555.6,493.8 1557.2,483.8 1558.4,473.1 1559,462.5 1559.2,451.8Z M1569.4,451.1 1569,439.8 1568,428.5 1566.4,417.3 1564.2,405.4 1561.6,394.2 1558.2,382.4 1554.2,370.7 1549.9,359.8 1545.1,348.9 1539.3,337.4 1533.4,326.7 1526.9,316 1519.8,305.3 1512.1,294.7 1503.8,284.1 1495.4,274.3 1485.7,263.8 1476,254 1465.6,244.4 1454.4,234.8 1443.2,226 1431.3,217.3 1419.7,209.6 1408.3,202.7 1397.5,196.8 1386.2,191.3 1375.6,186.9 1364.7,183 1354.7,180.3 1344.6,178.3 1335.7,177.4 1326.9,177.3 1319.4,178 1313.2,179.1 1307.2,180.7 1300.2,183.3 1294.6,186 1288.2,189.8 1282,194.2 1276.2,199.1 1270.7,204.4 1264.7,211.1 1259.1,218.1 1254,225.4 1248.5,233.9 1243.5,242.5 1238.8,251.2 1234,261 1229.2,271.8 1224.4,283.5 1220.1,295.1 1215.8,307.5 1211.8,320.6 1208.2,333.5 1205.1,346.1 1202.1,359.5 1199.6,372.6 1197.3,386.4 1195.5,399.2 1194,412.7 1192.9,426.1 1192.2,438.6 1191.8,452 1191.8,464.5 1192.2,477.1 1192.9,489.7 1194,502.5 1195.3,514.5 1197.1,526.6 1199.2,538.9 1201.8,551.3 1204.7,562.9 1207.9,574.7 1211.3,585.6 1215.2,596.5 1219.5,607.6 1223.9,617.7 1228.8,627.7 1233.6,636.8 1238.8,645.7 1244.5,654.5 1250,662.1 1255.9,669.6 1261.4,675.8 1267.2,681.8 1273.4,687.4 1279.9,692.6 1286.7,697.4 1293.9,701.6 1300.3,704.7 1308,707.8 1314.8,709.9 1321.7,711.5 1329.9,712.8 1337.1,713.3 1345.4,713.4 1355,712.7 1364.5,711.2 1373.8,709.2 1384.1,706.3 1394.2,702.7 1405,698.2 1415.5,693.2 1426.4,687.3 1436.9,680.9 1446.9,674.3 1457.2,666.7 1467,658.9 1476.9,650.3 1486.2,641.5 1494.9,632.5 1503.7,622.7 1511.2,613.6 1518.8,603.6 1525.8,593.5 1532.2,583.4 1538.1,573.2 1543.8,562.2 1548.6,551.8 1553.2,540.7 1557.2,529.5 1560.4,519 1563.3,507.8 1565.7,496.5 1567.3,485.9 1568.6,474.5 1569.3,463.2 1569.4,451.9Z M1579.2,451.1 1578.7,439.1 1577.6,426.4 1575.9,414.6 1573.4,402 1570.4,389.5 1566.9,377.8 1562.6,365.5 1558.1,354 1552.6,341.7 1546.9,330.3 1540.6,319 1533.2,306.9 1525.7,295.6 1517.6,284.3 1508.7,273.1 1499.2,261.8 1488.9,250.5 1477.7,239.2 1465.7,227.8 1453.6,217.3 1440.6,206.7 1427.6,196.9 1414.8,188 1401.1,179.3 1389.1,172.2 1376.4,165.6 1364.5,160.1 1353.6,155.8 1342.4,152.2 1332.4,149.9 1326.7,149 1322.4,148.6 1313.9,148.4 1306.9,149 1300.1,150.2 1294.8,151.8 1288.4,154.3 1282.3,157.6 1276.4,161.4 1270.9,165.8 1264.6,171.7 1258.8,178.1 1253.4,184.9 1248.3,192 1242.9,200.5 1237.1,210.4 1231.9,220.4 1226.4,231.6 1221.5,242.7 1216.6,254.8 1211.6,267.9 1206.8,281.9 1202.5,295.5 1198.4,309.9 1194.7,323.9 1191.3,338.6 1188.3,352.9 1185.7,367 1183.3,381.9 1181.5,395.5 1180,410 1178.8,424.4 1178.1,438.7 1177.7,453 1177.7,466.4 1178.1,479.8 1178.9,493.4 1180,507.1 1181.5,519.9 1183.3,532.9 1185.6,546.1 1188.3,559.4 1191.3,571.9 1194.7,584.6 1198.3,596.4 1202.3,608.3 1206.8,620.3 1211.4,631.3 1216.5,642.3 1222.1,653.4 1227.6,663.3 1233,672 1238.7,680.5 1244.9,688.9 1250.7,695.9 1256.9,702.7 1263.5,709.1 1270.5,715 1276.9,719.6 1283.5,723.7 1290.4,727.3 1297.5,730.4 1304.9,732.8 1312.4,734.6 1320.1,735.8 1327.9,736.4 1335.8,736.4 1344.9,735.7 1355.4,734.1 1365.7,731.7 1377,728.3 1388.1,724.3 1399.9,719.1 1411.3,713.5 1423.3,706.8 1434.7,699.7 1446.4,691.7 1457.6,683.4 1468,674.9 1478.7,665.5 1488.7,656 1498.8,645.6 1508.1,635.2 1516.8,624.6 1524.8,614 1532.2,603.3 1539.1,592.5 1545.3,581.7 1551.4,570.1 1556.9,558.4 1561.8,546.6 1565.8,535.6 1569.5,523.7 1572.6,511.8 1575.1,499.8 1577.1,487.9 1578.4,475.9 1579.1,463.9 1579.2,451.9Z M1588,451.1 1587.5,438.6 1586.2,425.3 1584.4,412.8 1581.9,399.7 1578.9,387.4 1575,374.4 1570.5,361.4 1565.3,348.6 1559.6,335.8 1553.1,323.1 1546,310.4 1538.7,298.5 1530.8,286.6 1522.2,274.7 1512.9,262.8 1502.9,250.9 1491.3,238 1478.7,225 1465.9,212.8 1452,200.3 1436.9,187.7 1421.7,175.8 1406.4,164.6 1391.2,154.3 1376.3,144.9 1362,136.6 1349.9,130.3 1337.4,124.6 1326.1,120.3 1319.6,118.3 1314.7,117.1 1309.8,116.2 1304.9,115.6 1300.1,115.3 1296.9,115.3 1290.7,115.9 1284.7,117.2 1278.9,119.3 1273.4,122 1268.1,125.5 1262,130.6 1257.4,135.3 1252.1,141.5 1247.1,148.3 1241.5,156.7 1235.6,166.8 1230.1,177.1 1224.4,188.8 1219.2,200.4 1213.8,213.2 1208.4,227.1 1203.1,242 1198.3,256.4 1193.5,271.6 1188.9,287.6 1184.9,303 1181,319.1 1177.6,334.8 1174.7,350.1 1172.2,365 1169.9,380.8 1168.1,395.2 1166.6,410.6 1165.5,425.8 1164.8,440 1164.5,454.1 1164.5,468.3 1164.9,482.6 1165.8,497 1167,511.5 1168.5,525.1 1170.4,539 1172.8,553 1175.7,567.2 1178.7,580.6 1182.3,594.2 1186,606.8 1190.2,619.6 1194.9,632.6 1199.6,644.5 1204.8,656.5 1210.6,668.6 1216.3,679.5 1221.8,689.2 1227.8,698.7 1234.2,708.1 1240.3,716.1 1246.8,723.8 1252.7,730.1 1259,735.9 1265.7,741.3 1272.7,746.2 1278.8,749.7 1286.4,753.3 1293,755.7 1299.8,757.6 1308.1,759 1315.2,759.7 1323.7,759.7 1333.8,758.9 1339.5,758.1 1345.2,757 1356.5,754.2 1367.6,750.7 1379.7,746 1391.3,740.8 1403.8,734.5 1416.9,727.1 1429.3,719.3 1442.1,710.5 1454.2,701.5 1466.5,691.6 1478,681.5 1489.6,670.6 1500.3,659.5 1511,647.6 1520.2,636.4 1528.8,625.2 1536.7,614 1544.5,601.8 1551.7,589.7 1558.1,577.5 1564,565.2 1569.1,552.9 1573.7,540.5 1577.6,528 1580.9,515.5 1583.6,503 1585.7,490.5 1587.1,477.9 1587.9,465.3 1588,451.9Z M1595.6,451.1 1595,438.1 1593.8,425.1 1592,412.2 1589.3,398.5 1586.2,385.8 1582.2,372.2 1577.5,358.8 1572.6,346.3 1567,333.8 1560.4,320.6 1553.2,307.4 1545.8,295.1 1537.1,281.9 1528.4,269.5 1518.9,257 1508.6,244.5 1496.7,230.9 1483.9,217.2 1470.7,204.1 1456.5,190.7 1441,177 1425.3,163.7 1408.2,150 1389.5,135.7 1367.4,119.6 1346.2,105 1326.6,92.1 1309.4,81.6 1295.3,73.8 1289.2,70.9 1285.1,69.2 1281,67.7 1277,66.6 1273.1,65.9 1269.4,65.8 1265.8,66.4 1264.1,67 1261,68.6 1258,70.9 1254,75.2 1250.3,80.3 1245.9,87.7 1241.8,95.5 1237,105.4 1230.9,119.1 1223.7,136.4 1216.5,154.7 1210.1,172.2 1203.6,190.5 1197.2,209.5 1191.5,227.5 1186,246.1 1177.9,275.8 1174.1,291.1 1170.7,305.9 1167.6,320.3 1164.7,335.6 1162.3,349.3 1160,363.9 1158.1,377.1 1156.4,391.3 1155.1,405.3 1154.1,418.1 1153.3,432 1152.8,444.7 1152.6,458.5 1152.7,471.4 1153.2,486.4 1154,501.5 1155.4,516.8 1157,531.2 1159,545.8 1161.5,560.6 1164.3,574.5 1167.5,588.7 1171.1,603.1 1174.9,616.5 1179.2,630.1 1184,644 1189.4,658.1 1194.7,671.2 1200.7,684.4 1206.5,696.3 1212.1,707 1218.2,717.7 1224.9,728.3 1231.1,737.4 1236.9,744.9 1243,752.2 1249.5,759 1255.3,764.3 1261.4,769.1 1267.9,773.3 1274.6,776.8 1281.7,779.6 1287.5,781.3 1295,782.7 1302.7,783.4 1310.5,783.4 1315.2,783 1321.5,782.3 1332.4,780.2 1338.6,778.6 1344.8,776.8 1356.9,772.6 1370.1,767.2 1384.2,760.5 1397.7,753.3 1411.8,745 1425.1,736.4 1438.8,726.8 1452.8,716.3 1465.8,705.6 1478.9,694 1491,682.4 1502.3,670.7 1513.6,658.2 1523.3,646.5 1532.3,634.8 1541.2,622.2 1549.4,609.5 1556.9,596.9 1563.7,584.2 1569.8,571.4 1575.6,557.7 1580.4,544.9 1584.6,531.9 1588,519 1591,505.1 1593.2,492 1594.7,479 1595.5,465.9 1595.6,452Z"/>
<circle cx="1396.4" cy="451.1" r="2.6" fill="#ff0000" stroke="none"/>
<path stroke="#000" stroke-width="2.8" stroke-linejoin="miter" d="M1258.6,47.4 1270.8,55.6 1285.3,64.9 1331.3,93.7 1349,105 1365.5,115.9 1380.6,126.4 1389.6,132.9 1399.4,140.3 1417.6,154.7 1427,162.6 1436.2,170.6 1454.4,187 1465.1,197.2 1475.7,207.6 1485.2,217.3 1494.5,227.2 1503.6,237.3 1511.7,246.7 1520.4,257.2 1528.1,266.9 1535.5,276.8 1542,285.9 1548.1,295.1 1554,304.5 1558.9,313 1563.4,321.6 1567.6,330.4 1571.9,340.4 1575.9,350.6 1580,362.1 1583.4,372.6 1586.4,383.3 1589.1,394.1 1591.4,405 1593.3,416 1594.9,427 1596,438.1 1596.6,448 1596.9,457.8 1596.8,469 1596.2,480.1 1595.3,489.9 1594,499.6 1592.4,509.4 1590.4,519 1588,528.5 1585.3,538 1582.2,547.3 1578.8,556.5 1575,565.6 1571.3,573.4 1566.9,582.2 1562.1,590.8 1557,599.2 1551,608.6 1544.7,617.8 1536.8,628.8 1527.3,641.6 1519.1,652.1 1511.3,661.6 1500,674.7 1489,686.5 1477.5,697.9 1466.5,707.9 1455.2,717.4 1443.5,726.3 1431.5,734.6 1419.2,742.3 1402.3,752 1382.7,762.6 1368,769.7 1361.1,772.7 1354.1,775.5 1347,778.1 1341.1,780 1335,781.7 1329,783.2 1322.9,784.4 1316.8,785.2 1310.7,785.7 1305.9,785.8 1301.1,785.7 1297.5,785.4 1292.8,784.7 1289.3,784 1285.8,783 1282.4,781.9 1279,780.6 1274.6,778.6 1271.4,776.8 1267.1,774.3 1263,771.5 1259,768.5 1255.1,765.4 1250.4,761.3 1242.5,753.5 1235.2,745.3 1228.5,736.7 1221.6,726.8 1215.1,716.5 1208.5,704.7 1201.2,690.4 1193.6,674.6 1187.6,660.8 1182.2,646.8 1177.4,632.7 1172.5,616.2 1167.8,598.4 1163.5,580.5 1159.8,562.4 1156.8,545.5 1154.6,529.7 1153,513.9 1152,496.8 1151,473.5 1150.7,452.6 1150.9,435.4 1151.6,419.4 1152.7,403.4 1154.5,386.2 1157.1,366.6 1160.3,347.1 1164.2,326.4 1168.8,305.9 1174.6,281.8 1181.8,254.4 1192.5,215.4 1200,189.7 1204.8,174.6 1209.6,160.7 1214.3,148 1219.3,135.4 1229.6,111.5 1250.7,65.2 1258.6,47.4Z"/>
</g>
<rect x="1151.0" y="46.9" width="445.9" height="739.0" fill="none" stroke="#262626" stroke-width="3.6"/>
<path d="M1169.3,785.9 v-5.0 M1169.3,46.9 v5.0 M1194.2,785.9 v-5.0 M1194.2,46.9 v5.0 M1219.2,785.9 v-5.0 M1219.2,46.9 v5.0 M1244.2,785.9 v-8.5 M1244.2,46.9 v8.5 M1269.2,785.9 v-5.0 M1269.2,46.9 v5.0 M1294.2,785.9 v-5.0 M1294.2,46.9 v5.0 M1319.1,785.9 v-5.0 M1319.1,46.9 v5.0 M1344.1,785.9 v-8.5 M1344.1,46.9 v8.5 M1369.1,785.9 v-5.0 M1369.1,46.9 v5.0 M1394.0,785.9 v-5.0 M1394.0,46.9 v5.0 M1419.0,785.9 v-5.0 M1419.0,46.9 v5.0 M1444.0,785.9 v-8.5 M1444.0,46.9 v8.5 M1469.0,785.9 v-5.0 M1469.0,46.9 v5.0 M1494.0,785.9 v-5.0 M1494.0,46.9 v5.0 M1518.9,785.9 v-5.0 M1518.9,46.9 v5.0 M1543.9,785.9 v-8.5 M1543.9,46.9 v8.5 M1568.9,785.9 v-5.0 M1568.9,46.9 v5.0 M1593.8,785.9 v-5.0 M1593.8,46.9 v5.0 M1151.0,759.9 h8.5 M1596.9,759.9 h-8.5 M1151.0,734.9 h5.0 M1596.9,734.9 h-5.0 M1151.0,710.0 h5.0 M1596.9,710.0 h-5.0 M1151.0,685.0 h5.0 M1596.9,685.0 h-5.0 M1151.0,660.0 h8.5 M1596.9,660.0 h-8.5 M1151.0,635.0 h5.0 M1596.9,635.0 h-5.0 M1151.0,610.0 h5.0 M1596.9,610.0 h-5.0 M1151.0,585.1 h5.0 M1596.9,585.1 h-5.0 M1151.0,560.1 h8.5 M1596.9,560.1 h-8.5 M1151.0,535.1 h5.0 M1596.9,535.1 h-5.0 M1151.0,510.1 h5.0 M1596.9,510.1 h-5.0 M1151.0,485.2 h5.0 M1596.9,485.2 h-5.0 M1151.0,460.2 h8.5 M1596.9,460.2 h-8.5 M1151.0,435.2 h5.0 M1596.9,435.2 h-5.0 M1151.0,410.2 h5.0 M1596.9,410.2 h-5.0 M1151.0,385.3 h5.0 M1596.9,385.3 h-5.0 M1151.0,360.3 h8.5 M1596.9,360.3 h-8.5 M1151.0,335.3 h5.0 M1596.9,335.3 h-5.0 M1151.0,310.3 h5.0 M1596.9,310.3 h-5.0 M1151.0,285.4 h5.0 M1596.9,285.4 h-5.0 M1151.0,260.4 h8.5 M1596.9,260.4 h-8.5 M1151.0,235.4 h5.0 M1596.9,235.4 h-5.0 M1151.0,210.4 h5.0 M1596.9,210.4 h-5.0 M1151.0,185.5 h5.0 M1596.9,185.5 h-5.0 M1151.0,160.5 h8.5 M1596.9,160.5 h-8.5 M1151.0,135.5 h5.0 M1596.9,135.5 h-5.0 M1151.0,110.5 h5.0 M1596.9,110.5 h-5.0 M1151.0,85.6 h5.0 M1596.9,85.6 h-5.0 M1151.0,60.6 h8.5 M1596.9,60.6 h-8.5" stroke="#262626" stroke-width="3.2" fill="none"/>
<g font-family="'Liberation Sans', Arial, Helvetica, sans-serif" font-size="26" fill="#262626">
<text x="1140.2" y="70.6" text-anchor="end">0.8</text>
<text x="1140.2" y="170.5" text-anchor="end">0.6</text>
<text x="1140.2" y="270.4" text-anchor="end">0.4</text>
<text x="1140.2" y="370.3" text-anchor="end">0.2</text>
<text x="1140.2" y="470.2" text-anchor="end">0</text>
<text x="1140.2" y="570.1" text-anchor="end">-0.2</text>
<text x="1140.2" y="670.0" text-anchor="end">-0.4</text>
<text x="1140.2" y="769.9" text-anchor="end">-0.6</text>
<text x="1244.6" y="822.7" text-anchor="middle">1.6</text>
<text x="1344.5" y="822.7" text-anchor="middle">1.8</text>
<text x="1444.4" y="822.7" text-anchor="middle">2</text>
<text x="1544.3" y="822.7" text-anchor="middle">2.2</text>
</g>
<g font-family="'Liberation Sans', Arial, Helvetica, sans-serif" font-weight="bold" fill="#000">
<text x="1160.7" y="102.6" font-size="46.7">(b)</text>
<text x="1390.8" y="109.7" font-size="46.5">Hamada</text>
</g>
<g font-family="'Liberation Sans', Arial, Helvetica, sans-serif" font-weight="bold" fill="#262626" font-size="46.8">
<text x="1320.9" y="878.3">R(m)</text>
<text transform="translate(1077.6,467.5) rotate(-90)">Z(m)</text>
</g>
</g>
</svg>
</body>
</html>
